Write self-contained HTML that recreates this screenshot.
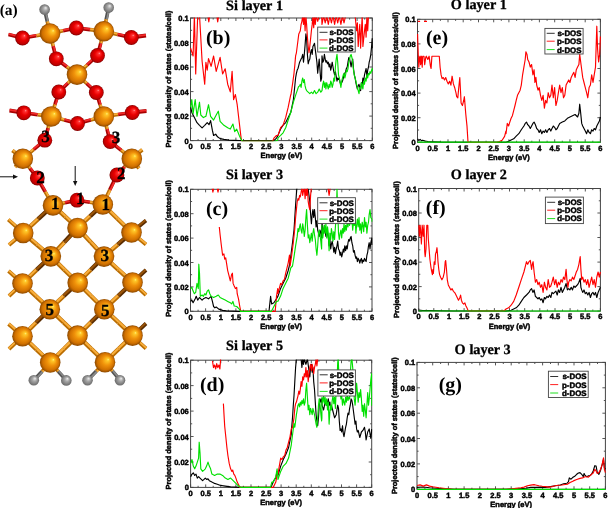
<!DOCTYPE html>
<html><head><meta charset="utf-8"><style>
html,body{margin:0;padding:0;background:#fff;width:608px;height:508px;overflow:hidden}
svg{display:block} text{text-rendering:geometricPrecision}
</style></head><body>
<svg width="608" height="508" viewBox="0 0 608 508">
<rect width="608" height="508" fill="#fff"/>
<defs>
<radialGradient id="gSi" cx="0.5" cy="0.5" r="0.5" fx="0.66" fy="0.36"><stop offset="0" stop-color="#fff080"/><stop offset="0.12" stop-color="#ffc828"/><stop offset="0.45" stop-color="#f0920a"/><stop offset="0.8" stop-color="#d07000"/><stop offset="1" stop-color="#8a4800"/></radialGradient>
<radialGradient id="gO" cx="0.5" cy="0.5" r="0.5" fx="0.64" fy="0.34"><stop offset="0" stop-color="#ff9a9a"/><stop offset="0.15" stop-color="#ff3030"/><stop offset="0.5" stop-color="#e80000"/><stop offset="0.85" stop-color="#c00000"/><stop offset="1" stop-color="#800000"/></radialGradient>
<radialGradient id="gH" cx="0.5" cy="0.5" r="0.5" fx="0.62" fy="0.32"><stop offset="0" stop-color="#eeeeee"/><stop offset="0.4" stop-color="#a8a8a8"/><stop offset="1" stop-color="#6a6a6a"/></radialGradient>
</defs>
<g><line x1="44.6" y1="9.6" x2="47.3" y2="21.6" stroke="#505050" stroke-width="3.6"/><line x1="45.2" y1="9.5" x2="47.9" y2="21.4" stroke="#8a8a8a" stroke-width="1.8"/><line x1="47.3" y1="21.6" x2="50.0" y2="33.5" stroke="#b96c00" stroke-width="3.6"/><line x1="47.9" y1="21.4" x2="50.6" y2="33.4" stroke="#f8ad3a" stroke-width="1.8"/><line x1="108.7" y1="7.6" x2="106.2" y2="19.4" stroke="#505050" stroke-width="3.6"/><line x1="109.3" y1="7.7" x2="106.8" y2="19.6" stroke="#8a8a8a" stroke-width="1.8"/><line x1="106.2" y1="19.4" x2="103.8" y2="31.3" stroke="#b96c00" stroke-width="3.6"/><line x1="106.8" y1="19.6" x2="104.4" y2="31.4" stroke="#f8ad3a" stroke-width="1.8"/><line x1="50.0" y1="33.5" x2="63.1" y2="30.8" stroke="#b96c00" stroke-width="3.6"/><line x1="49.9" y1="32.9" x2="63.0" y2="30.2" stroke="#f8ad3a" stroke-width="1.8"/><line x1="63.1" y1="30.8" x2="76.3" y2="28.0" stroke="#a80000" stroke-width="3.6"/><line x1="63.0" y1="30.2" x2="76.2" y2="27.4" stroke="#f22a2a" stroke-width="1.8"/><line x1="103.8" y1="31.3" x2="90.0" y2="29.6" stroke="#b96c00" stroke-width="3.6"/><line x1="103.9" y1="30.7" x2="90.1" y2="29.1" stroke="#f8ad3a" stroke-width="1.8"/><line x1="90.0" y1="29.6" x2="76.3" y2="28.0" stroke="#a80000" stroke-width="3.6"/><line x1="90.1" y1="29.1" x2="76.4" y2="27.4" stroke="#f22a2a" stroke-width="1.8"/><line x1="50.0" y1="33.5" x2="36.2" y2="35.8" stroke="#b96c00" stroke-width="3.6"/><line x1="49.9" y1="32.9" x2="36.2" y2="35.2" stroke="#f8ad3a" stroke-width="1.8"/><line x1="36.2" y1="35.8" x2="22.5" y2="38.0" stroke="#a80000" stroke-width="3.6"/><line x1="36.2" y1="35.2" x2="22.4" y2="37.4" stroke="#f22a2a" stroke-width="1.8"/><line x1="103.8" y1="31.3" x2="117.6" y2="34.4" stroke="#b96c00" stroke-width="3.6"/><line x1="103.9" y1="30.7" x2="117.7" y2="33.8" stroke="#f8ad3a" stroke-width="1.8"/><line x1="117.6" y1="34.4" x2="131.3" y2="37.5" stroke="#a80000" stroke-width="3.6"/><line x1="117.7" y1="33.8" x2="131.4" y2="36.9" stroke="#f22a2a" stroke-width="1.8"/><line x1="50.0" y1="33.5" x2="53.1" y2="46.1" stroke="#b96c00" stroke-width="3.6"/><line x1="50.6" y1="33.4" x2="53.7" y2="46.0" stroke="#f8ad3a" stroke-width="1.8"/><line x1="53.1" y1="46.1" x2="56.3" y2="58.8" stroke="#a80000" stroke-width="3.6"/><line x1="53.7" y1="46.0" x2="56.9" y2="58.7" stroke="#f22a2a" stroke-width="1.8"/><line x1="77.0" y1="74.6" x2="66.7" y2="66.7" stroke="#b96c00" stroke-width="3.6"/><line x1="77.4" y1="74.1" x2="67.0" y2="66.2" stroke="#f8ad3a" stroke-width="1.8"/><line x1="66.7" y1="66.7" x2="56.3" y2="58.8" stroke="#a80000" stroke-width="3.6"/><line x1="67.0" y1="66.2" x2="56.7" y2="58.3" stroke="#f22a2a" stroke-width="1.8"/><line x1="103.8" y1="31.3" x2="100.7" y2="43.4" stroke="#b96c00" stroke-width="3.6"/><line x1="104.4" y1="31.5" x2="101.2" y2="43.6" stroke="#f8ad3a" stroke-width="1.8"/><line x1="100.7" y1="43.4" x2="97.5" y2="55.5" stroke="#a80000" stroke-width="3.6"/><line x1="101.2" y1="43.6" x2="98.1" y2="55.7" stroke="#f22a2a" stroke-width="1.8"/><line x1="77.0" y1="74.6" x2="87.2" y2="65.0" stroke="#b96c00" stroke-width="3.6"/><line x1="76.6" y1="74.2" x2="86.8" y2="64.6" stroke="#f8ad3a" stroke-width="1.8"/><line x1="87.2" y1="65.0" x2="97.5" y2="55.5" stroke="#a80000" stroke-width="3.6"/><line x1="86.8" y1="64.6" x2="97.1" y2="55.1" stroke="#f22a2a" stroke-width="1.8"/><line x1="77.0" y1="74.6" x2="67.9" y2="83.3" stroke="#b96c00" stroke-width="3.6"/><line x1="76.6" y1="74.2" x2="67.5" y2="82.9" stroke="#f8ad3a" stroke-width="1.8"/><line x1="67.9" y1="83.3" x2="58.8" y2="92.0" stroke="#a80000" stroke-width="3.6"/><line x1="67.5" y1="82.9" x2="58.4" y2="91.6" stroke="#f22a2a" stroke-width="1.8"/><line x1="51.3" y1="116.5" x2="55.0" y2="104.2" stroke="#b96c00" stroke-width="3.6"/><line x1="51.9" y1="116.7" x2="55.6" y2="104.4" stroke="#f8ad3a" stroke-width="1.8"/><line x1="55.0" y1="104.2" x2="58.8" y2="92.0" stroke="#a80000" stroke-width="3.6"/><line x1="55.6" y1="104.4" x2="59.4" y2="92.2" stroke="#f22a2a" stroke-width="1.8"/><line x1="77.0" y1="74.6" x2="86.7" y2="83.5" stroke="#b96c00" stroke-width="3.6"/><line x1="77.4" y1="74.2" x2="87.1" y2="83.1" stroke="#f8ad3a" stroke-width="1.8"/><line x1="86.7" y1="83.5" x2="96.3" y2="92.5" stroke="#a80000" stroke-width="3.6"/><line x1="87.1" y1="83.1" x2="96.7" y2="92.1" stroke="#f22a2a" stroke-width="1.8"/><line x1="103.8" y1="116.5" x2="100.0" y2="104.5" stroke="#b96c00" stroke-width="3.6"/><line x1="104.4" y1="116.3" x2="100.6" y2="104.3" stroke="#f8ad3a" stroke-width="1.8"/><line x1="100.0" y1="104.5" x2="96.3" y2="92.5" stroke="#a80000" stroke-width="3.6"/><line x1="100.6" y1="104.3" x2="96.9" y2="92.3" stroke="#f22a2a" stroke-width="1.8"/><line x1="51.3" y1="116.5" x2="64.4" y2="120.0" stroke="#b96c00" stroke-width="3.6"/><line x1="51.5" y1="115.9" x2="64.6" y2="119.4" stroke="#f8ad3a" stroke-width="1.8"/><line x1="64.4" y1="120.0" x2="77.5" y2="123.5" stroke="#a80000" stroke-width="3.6"/><line x1="64.6" y1="119.4" x2="77.7" y2="122.9" stroke="#f22a2a" stroke-width="1.8"/><line x1="103.8" y1="116.5" x2="90.7" y2="120.0" stroke="#b96c00" stroke-width="3.6"/><line x1="103.6" y1="115.9" x2="90.5" y2="119.4" stroke="#f8ad3a" stroke-width="1.8"/><line x1="90.7" y1="120.0" x2="77.5" y2="123.5" stroke="#a80000" stroke-width="3.6"/><line x1="90.5" y1="119.4" x2="77.3" y2="122.9" stroke="#f22a2a" stroke-width="1.8"/><line x1="51.3" y1="116.5" x2="37.5" y2="114.7" stroke="#b96c00" stroke-width="3.6"/><line x1="51.4" y1="115.9" x2="37.6" y2="114.1" stroke="#f8ad3a" stroke-width="1.8"/><line x1="37.5" y1="114.7" x2="23.8" y2="112.8" stroke="#a80000" stroke-width="3.6"/><line x1="37.6" y1="114.1" x2="23.9" y2="112.2" stroke="#f22a2a" stroke-width="1.8"/><line x1="103.8" y1="116.5" x2="118.1" y2="114.5" stroke="#b96c00" stroke-width="3.6"/><line x1="103.7" y1="115.9" x2="118.0" y2="113.9" stroke="#f8ad3a" stroke-width="1.8"/><line x1="118.1" y1="114.5" x2="132.3" y2="112.5" stroke="#a80000" stroke-width="3.6"/><line x1="118.0" y1="113.9" x2="132.2" y2="111.9" stroke="#f22a2a" stroke-width="1.8"/><line x1="51.3" y1="116.5" x2="48.0" y2="128.3" stroke="#b96c00" stroke-width="3.6"/><line x1="51.9" y1="116.7" x2="48.6" y2="128.5" stroke="#f8ad3a" stroke-width="1.8"/><line x1="48.0" y1="128.3" x2="44.8" y2="140.2" stroke="#a80000" stroke-width="3.6"/><line x1="48.6" y1="128.5" x2="45.4" y2="140.4" stroke="#f22a2a" stroke-width="1.8"/><line x1="22.8" y1="158.8" x2="33.8" y2="149.5" stroke="#b96c00" stroke-width="3.6"/><line x1="22.4" y1="158.3" x2="33.4" y2="149.0" stroke="#f8ad3a" stroke-width="1.8"/><line x1="33.8" y1="149.5" x2="44.8" y2="140.2" stroke="#a80000" stroke-width="3.6"/><line x1="33.4" y1="149.0" x2="44.4" y2="139.7" stroke="#f22a2a" stroke-width="1.8"/><line x1="103.8" y1="116.5" x2="107.0" y2="129.1" stroke="#b96c00" stroke-width="3.6"/><line x1="104.4" y1="116.4" x2="107.6" y2="128.9" stroke="#f8ad3a" stroke-width="1.8"/><line x1="107.0" y1="129.1" x2="110.2" y2="141.6" stroke="#a80000" stroke-width="3.6"/><line x1="107.6" y1="128.9" x2="110.8" y2="141.5" stroke="#f22a2a" stroke-width="1.8"/><line x1="131.8" y1="158.8" x2="121.0" y2="150.2" stroke="#b96c00" stroke-width="3.6"/><line x1="132.2" y1="158.3" x2="121.4" y2="149.7" stroke="#f8ad3a" stroke-width="1.8"/><line x1="121.0" y1="150.2" x2="110.2" y2="141.6" stroke="#a80000" stroke-width="3.6"/><line x1="121.4" y1="149.7" x2="110.6" y2="141.1" stroke="#f22a2a" stroke-width="1.8"/><line x1="22.8" y1="158.8" x2="30.0" y2="168.4" stroke="#b96c00" stroke-width="3.6"/><line x1="23.3" y1="158.4" x2="30.5" y2="168.0" stroke="#f8ad3a" stroke-width="1.8"/><line x1="30.0" y1="168.4" x2="37.3" y2="178.0" stroke="#a80000" stroke-width="3.6"/><line x1="30.5" y1="168.0" x2="37.8" y2="177.6" stroke="#f22a2a" stroke-width="1.8"/><line x1="53.0" y1="205.4" x2="45.1" y2="191.7" stroke="#b96c00" stroke-width="3.6"/><line x1="53.5" y1="205.1" x2="45.7" y2="191.4" stroke="#f8ad3a" stroke-width="1.8"/><line x1="45.1" y1="191.7" x2="37.3" y2="178.0" stroke="#a80000" stroke-width="3.6"/><line x1="45.7" y1="191.4" x2="37.8" y2="177.7" stroke="#f22a2a" stroke-width="1.8"/><line x1="131.8" y1="158.8" x2="124.4" y2="166.9" stroke="#b96c00" stroke-width="3.6"/><line x1="132.2" y1="159.2" x2="124.8" y2="167.3" stroke="#f8ad3a" stroke-width="1.8"/><line x1="124.4" y1="166.9" x2="116.9" y2="175.0" stroke="#a80000" stroke-width="3.6"/><line x1="124.8" y1="167.3" x2="117.3" y2="175.4" stroke="#f22a2a" stroke-width="1.8"/><line x1="102.8" y1="204.5" x2="109.8" y2="189.8" stroke="#b96c00" stroke-width="3.6"/><line x1="103.3" y1="204.8" x2="110.4" y2="190.0" stroke="#f8ad3a" stroke-width="1.8"/><line x1="109.8" y1="189.8" x2="116.9" y2="175.0" stroke="#a80000" stroke-width="3.6"/><line x1="110.4" y1="190.0" x2="117.4" y2="175.3" stroke="#f22a2a" stroke-width="1.8"/><line x1="53.0" y1="205.4" x2="65.0" y2="202.8" stroke="#b96c00" stroke-width="3.6"/><line x1="52.9" y1="204.8" x2="64.9" y2="202.2" stroke="#f8ad3a" stroke-width="1.8"/><line x1="65.0" y1="202.8" x2="77.0" y2="200.2" stroke="#a80000" stroke-width="3.6"/><line x1="64.9" y1="202.2" x2="76.9" y2="199.6" stroke="#f22a2a" stroke-width="1.8"/><line x1="102.8" y1="204.5" x2="89.9" y2="202.3" stroke="#b96c00" stroke-width="3.6"/><line x1="102.9" y1="203.9" x2="90.0" y2="201.8" stroke="#f8ad3a" stroke-width="1.8"/><line x1="89.9" y1="202.3" x2="77.0" y2="200.2" stroke="#a80000" stroke-width="3.6"/><line x1="90.0" y1="201.8" x2="77.1" y2="199.6" stroke="#f22a2a" stroke-width="1.8"/><line x1="23.2" y1="233.0" x2="38.1" y2="219.2" stroke="#b96c00" stroke-width="4.4"/><line x1="22.8" y1="232.6" x2="37.7" y2="218.8" stroke="#f8ad3a" stroke-width="2.2"/><line x1="38.1" y1="219.2" x2="53.0" y2="205.4" stroke="#5a2c00" stroke-width="4.4"/><line x1="37.7" y1="218.8" x2="52.6" y2="205.0" stroke="#9a5408" stroke-width="2.2"/><line x1="53.0" y1="205.4" x2="65.2" y2="216.7" stroke="#b96c00" stroke-width="4.4"/><line x1="53.4" y1="205.0" x2="65.7" y2="216.3" stroke="#f8ad3a" stroke-width="2.2"/><line x1="65.2" y1="216.7" x2="77.5" y2="228.0" stroke="#b96c00" stroke-width="4.4"/><line x1="65.7" y1="216.3" x2="77.9" y2="227.6" stroke="#f8ad3a" stroke-width="2.2"/><line x1="77.5" y1="228.0" x2="90.2" y2="216.2" stroke="#b96c00" stroke-width="4.4"/><line x1="77.1" y1="227.6" x2="89.7" y2="215.8" stroke="#f8ad3a" stroke-width="2.2"/><line x1="90.2" y1="216.2" x2="102.8" y2="204.5" stroke="#5a2c00" stroke-width="4.4"/><line x1="89.7" y1="215.8" x2="102.4" y2="204.1" stroke="#9a5408" stroke-width="2.2"/><line x1="102.8" y1="204.5" x2="117.2" y2="218.5" stroke="#b96c00" stroke-width="4.4"/><line x1="103.2" y1="204.1" x2="117.6" y2="218.1" stroke="#f8ad3a" stroke-width="2.2"/><line x1="117.2" y1="218.5" x2="131.5" y2="232.5" stroke="#b96c00" stroke-width="4.4"/><line x1="117.6" y1="218.1" x2="131.9" y2="232.1" stroke="#f8ad3a" stroke-width="2.2"/><line x1="23.2" y1="233.0" x2="37.0" y2="244.7" stroke="#b96c00" stroke-width="4.4"/><line x1="23.6" y1="232.5" x2="37.4" y2="244.2" stroke="#f8ad3a" stroke-width="2.2"/><line x1="37.0" y1="244.7" x2="50.8" y2="256.4" stroke="#b96c00" stroke-width="4.4"/><line x1="37.4" y1="244.2" x2="51.2" y2="255.9" stroke="#f8ad3a" stroke-width="2.2"/><line x1="50.8" y1="256.4" x2="64.2" y2="242.2" stroke="#b96c00" stroke-width="4.4"/><line x1="51.2" y1="256.8" x2="64.6" y2="242.6" stroke="#f8ad3a" stroke-width="2.2"/><line x1="64.2" y1="242.2" x2="77.5" y2="228.0" stroke="#5a2c00" stroke-width="4.4"/><line x1="64.6" y1="242.6" x2="77.9" y2="228.4" stroke="#9a5408" stroke-width="2.2"/><line x1="77.5" y1="228.0" x2="90.8" y2="242.3" stroke="#b96c00" stroke-width="4.4"/><line x1="77.9" y1="227.6" x2="91.2" y2="241.9" stroke="#f8ad3a" stroke-width="2.2"/><line x1="90.8" y1="242.3" x2="104.0" y2="256.6" stroke="#b96c00" stroke-width="4.4"/><line x1="91.2" y1="241.9" x2="104.4" y2="256.2" stroke="#f8ad3a" stroke-width="2.2"/><line x1="104.0" y1="256.6" x2="117.8" y2="244.6" stroke="#b96c00" stroke-width="4.4"/><line x1="103.6" y1="256.1" x2="117.4" y2="244.1" stroke="#f8ad3a" stroke-width="2.2"/><line x1="117.8" y1="244.6" x2="131.5" y2="232.5" stroke="#5a2c00" stroke-width="4.4"/><line x1="117.4" y1="244.1" x2="131.1" y2="232.0" stroke="#9a5408" stroke-width="2.2"/><line x1="22.5" y1="283.5" x2="36.6" y2="269.9" stroke="#b96c00" stroke-width="4.4"/><line x1="22.1" y1="283.1" x2="36.2" y2="269.5" stroke="#f8ad3a" stroke-width="2.2"/><line x1="36.6" y1="269.9" x2="50.8" y2="256.4" stroke="#5a2c00" stroke-width="4.4"/><line x1="36.2" y1="269.5" x2="50.4" y2="256.0" stroke="#9a5408" stroke-width="2.2"/><line x1="50.8" y1="256.4" x2="64.2" y2="269.6" stroke="#b96c00" stroke-width="4.4"/><line x1="51.2" y1="256.0" x2="64.7" y2="269.2" stroke="#f8ad3a" stroke-width="2.2"/><line x1="64.2" y1="269.6" x2="77.7" y2="282.8" stroke="#b96c00" stroke-width="4.4"/><line x1="64.7" y1="269.2" x2="78.1" y2="282.4" stroke="#f8ad3a" stroke-width="2.2"/><line x1="77.7" y1="282.8" x2="90.8" y2="269.7" stroke="#b96c00" stroke-width="4.4"/><line x1="77.3" y1="282.4" x2="90.4" y2="269.3" stroke="#f8ad3a" stroke-width="2.2"/><line x1="90.8" y1="269.7" x2="104.0" y2="256.6" stroke="#5a2c00" stroke-width="4.4"/><line x1="90.4" y1="269.3" x2="103.6" y2="256.2" stroke="#9a5408" stroke-width="2.2"/><line x1="104.0" y1="256.6" x2="118.2" y2="269.6" stroke="#b96c00" stroke-width="4.4"/><line x1="104.4" y1="256.2" x2="118.7" y2="269.1" stroke="#f8ad3a" stroke-width="2.2"/><line x1="118.2" y1="269.6" x2="132.5" y2="282.5" stroke="#b96c00" stroke-width="4.4"/><line x1="118.7" y1="269.1" x2="132.9" y2="282.1" stroke="#f8ad3a" stroke-width="2.2"/><line x1="22.5" y1="283.5" x2="36.1" y2="296.4" stroke="#b96c00" stroke-width="4.4"/><line x1="22.9" y1="283.1" x2="36.6" y2="295.9" stroke="#f8ad3a" stroke-width="2.2"/><line x1="36.1" y1="296.4" x2="49.8" y2="309.2" stroke="#b96c00" stroke-width="4.4"/><line x1="36.6" y1="295.9" x2="50.2" y2="308.8" stroke="#f8ad3a" stroke-width="2.2"/><line x1="49.8" y1="309.2" x2="63.8" y2="296.0" stroke="#b96c00" stroke-width="4.4"/><line x1="49.4" y1="308.8" x2="63.3" y2="295.6" stroke="#f8ad3a" stroke-width="2.2"/><line x1="63.8" y1="296.0" x2="77.7" y2="282.8" stroke="#5a2c00" stroke-width="4.4"/><line x1="63.3" y1="295.6" x2="77.3" y2="282.4" stroke="#9a5408" stroke-width="2.2"/><line x1="77.7" y1="282.8" x2="91.0" y2="296.0" stroke="#b96c00" stroke-width="4.4"/><line x1="78.1" y1="282.4" x2="91.4" y2="295.6" stroke="#f8ad3a" stroke-width="2.2"/><line x1="91.0" y1="296.0" x2="104.3" y2="309.2" stroke="#b96c00" stroke-width="4.4"/><line x1="91.4" y1="295.6" x2="104.7" y2="308.8" stroke="#f8ad3a" stroke-width="2.2"/><line x1="104.3" y1="309.2" x2="118.4" y2="295.9" stroke="#b96c00" stroke-width="4.4"/><line x1="103.9" y1="308.8" x2="118.0" y2="295.4" stroke="#f8ad3a" stroke-width="2.2"/><line x1="118.4" y1="295.9" x2="132.5" y2="282.5" stroke="#5a2c00" stroke-width="4.4"/><line x1="118.0" y1="295.4" x2="132.1" y2="282.1" stroke="#9a5408" stroke-width="2.2"/><line x1="22.5" y1="336.2" x2="36.1" y2="322.7" stroke="#b96c00" stroke-width="4.4"/><line x1="22.1" y1="335.8" x2="35.7" y2="322.3" stroke="#f8ad3a" stroke-width="2.2"/><line x1="36.1" y1="322.7" x2="49.8" y2="309.2" stroke="#5a2c00" stroke-width="4.4"/><line x1="35.7" y1="322.3" x2="49.4" y2="308.8" stroke="#9a5408" stroke-width="2.2"/><line x1="49.8" y1="309.2" x2="63.6" y2="322.4" stroke="#b96c00" stroke-width="4.4"/><line x1="50.2" y1="308.8" x2="64.1" y2="322.0" stroke="#f8ad3a" stroke-width="2.2"/><line x1="63.6" y1="322.4" x2="77.5" y2="335.6" stroke="#b96c00" stroke-width="4.4"/><line x1="64.1" y1="322.0" x2="77.9" y2="335.2" stroke="#f8ad3a" stroke-width="2.2"/><line x1="77.5" y1="335.6" x2="90.9" y2="322.4" stroke="#b96c00" stroke-width="4.4"/><line x1="77.1" y1="335.2" x2="90.5" y2="322.0" stroke="#f8ad3a" stroke-width="2.2"/><line x1="90.9" y1="322.4" x2="104.3" y2="309.2" stroke="#5a2c00" stroke-width="4.4"/><line x1="90.5" y1="322.0" x2="103.9" y2="308.8" stroke="#9a5408" stroke-width="2.2"/><line x1="104.3" y1="309.2" x2="118.4" y2="322.4" stroke="#b96c00" stroke-width="4.4"/><line x1="104.7" y1="308.8" x2="118.8" y2="322.0" stroke="#f8ad3a" stroke-width="2.2"/><line x1="118.4" y1="322.4" x2="132.5" y2="335.6" stroke="#b96c00" stroke-width="4.4"/><line x1="118.8" y1="322.0" x2="132.9" y2="335.2" stroke="#f8ad3a" stroke-width="2.2"/><line x1="22.5" y1="336.2" x2="36.4" y2="349.4" stroke="#b96c00" stroke-width="4.4"/><line x1="22.9" y1="335.8" x2="36.8" y2="348.9" stroke="#f8ad3a" stroke-width="2.2"/><line x1="36.4" y1="349.4" x2="50.2" y2="362.5" stroke="#b96c00" stroke-width="4.4"/><line x1="36.8" y1="348.9" x2="50.6" y2="362.1" stroke="#f8ad3a" stroke-width="2.2"/><line x1="77.5" y1="335.6" x2="63.9" y2="349.1" stroke="#b96c00" stroke-width="4.4"/><line x1="77.1" y1="335.2" x2="63.4" y2="348.6" stroke="#f8ad3a" stroke-width="2.2"/><line x1="63.9" y1="349.1" x2="50.2" y2="362.5" stroke="#b96c00" stroke-width="4.4"/><line x1="63.4" y1="348.6" x2="49.8" y2="362.1" stroke="#f8ad3a" stroke-width="2.2"/><line x1="77.5" y1="335.6" x2="91.2" y2="348.9" stroke="#b96c00" stroke-width="4.4"/><line x1="77.9" y1="335.2" x2="91.7" y2="348.5" stroke="#f8ad3a" stroke-width="2.2"/><line x1="91.2" y1="348.9" x2="105.0" y2="362.2" stroke="#b96c00" stroke-width="4.4"/><line x1="91.7" y1="348.5" x2="105.4" y2="361.8" stroke="#f8ad3a" stroke-width="2.2"/><line x1="132.5" y1="335.6" x2="118.8" y2="348.9" stroke="#b96c00" stroke-width="4.4"/><line x1="132.1" y1="335.2" x2="118.3" y2="348.5" stroke="#f8ad3a" stroke-width="2.2"/><line x1="118.8" y1="348.9" x2="105.0" y2="362.2" stroke="#b96c00" stroke-width="4.4"/><line x1="118.3" y1="348.5" x2="104.6" y2="361.8" stroke="#f8ad3a" stroke-width="2.2"/><line x1="50.2" y1="362.5" x2="42.0" y2="371.4" stroke="#b96c00" stroke-width="3.6"/><line x1="50.6" y1="362.9" x2="42.4" y2="371.8" stroke="#f8ad3a" stroke-width="1.8"/><line x1="42.0" y1="371.4" x2="33.8" y2="380.2" stroke="#505050" stroke-width="3.6"/><line x1="42.4" y1="371.8" x2="34.2" y2="380.6" stroke="#8a8a8a" stroke-width="1.8"/><line x1="50.2" y1="362.5" x2="58.2" y2="371.4" stroke="#b96c00" stroke-width="3.6"/><line x1="50.6" y1="362.1" x2="58.7" y2="371.0" stroke="#f8ad3a" stroke-width="1.8"/><line x1="58.2" y1="371.4" x2="66.3" y2="380.4" stroke="#505050" stroke-width="3.6"/><line x1="58.7" y1="371.0" x2="66.7" y2="380.0" stroke="#8a8a8a" stroke-width="1.8"/><line x1="105.0" y1="362.2" x2="96.2" y2="371.2" stroke="#b96c00" stroke-width="3.6"/><line x1="105.4" y1="362.6" x2="96.7" y2="371.6" stroke="#f8ad3a" stroke-width="1.8"/><line x1="96.2" y1="371.2" x2="87.5" y2="380.2" stroke="#505050" stroke-width="3.6"/><line x1="96.7" y1="371.6" x2="87.9" y2="380.6" stroke="#8a8a8a" stroke-width="1.8"/><line x1="105.0" y1="362.2" x2="112.5" y2="371.2" stroke="#b96c00" stroke-width="3.6"/><line x1="105.5" y1="361.8" x2="113.0" y2="370.8" stroke="#f8ad3a" stroke-width="1.8"/><line x1="112.5" y1="371.2" x2="120.0" y2="380.2" stroke="#505050" stroke-width="3.6"/><line x1="113.0" y1="370.8" x2="120.5" y2="379.8" stroke="#8a8a8a" stroke-width="1.8"/><line x1="22.5" y1="38.0" x2="8.5" y2="34.5" stroke="#a80000" stroke-width="3.8"/><line x1="22.6" y1="37.4" x2="8.6" y2="33.9" stroke="#f22a2a" stroke-width="1.9"/><line x1="131.3" y1="37.5" x2="146.0" y2="35.5" stroke="#a80000" stroke-width="3.8"/><line x1="131.2" y1="36.9" x2="145.9" y2="34.9" stroke="#f22a2a" stroke-width="1.9"/><line x1="23.8" y1="112.8" x2="9.5" y2="110.5" stroke="#a80000" stroke-width="3.8"/><line x1="23.9" y1="112.2" x2="9.6" y2="109.9" stroke="#f22a2a" stroke-width="1.9"/><line x1="132.3" y1="112.5" x2="146.5" y2="111.0" stroke="#a80000" stroke-width="3.8"/><line x1="132.2" y1="111.9" x2="146.4" y2="110.4" stroke="#f22a2a" stroke-width="1.9"/><line x1="23.2" y1="233.0" x2="8.3" y2="219.6" stroke="#b96c00" stroke-width="3.8"/><line x1="23.6" y1="232.6" x2="8.7" y2="219.2" stroke="#f8ad3a" stroke-width="1.9"/><line x1="23.2" y1="233.0" x2="9.0" y2="245.0" stroke="#b96c00" stroke-width="3.8"/><line x1="22.8" y1="232.5" x2="8.6" y2="244.5" stroke="#f8ad3a" stroke-width="1.9"/><line x1="131.5" y1="232.5" x2="146.0" y2="220.5" stroke="#5a2c00" stroke-width="3.8"/><line x1="131.1" y1="232.0" x2="145.6" y2="220.0" stroke="#9a5408" stroke-width="1.9"/><line x1="131.5" y1="232.5" x2="146.0" y2="244.5" stroke="#b96c00" stroke-width="3.8"/><line x1="131.9" y1="232.0" x2="146.4" y2="244.0" stroke="#f8ad3a" stroke-width="1.9"/><line x1="22.5" y1="283.5" x2="8.5" y2="271.0" stroke="#b96c00" stroke-width="3.8"/><line x1="22.9" y1="283.1" x2="8.9" y2="270.6" stroke="#f8ad3a" stroke-width="1.9"/><line x1="22.5" y1="283.5" x2="9.0" y2="296.0" stroke="#b96c00" stroke-width="3.8"/><line x1="22.1" y1="283.1" x2="8.6" y2="295.6" stroke="#f8ad3a" stroke-width="1.9"/><line x1="132.5" y1="282.5" x2="146.0" y2="270.0" stroke="#5a2c00" stroke-width="3.8"/><line x1="132.1" y1="282.1" x2="145.6" y2="269.6" stroke="#9a5408" stroke-width="1.9"/><line x1="132.5" y1="282.5" x2="146.0" y2="295.0" stroke="#b96c00" stroke-width="3.8"/><line x1="132.9" y1="282.1" x2="146.4" y2="294.6" stroke="#f8ad3a" stroke-width="1.9"/><line x1="22.5" y1="336.3" x2="8.5" y2="324.0" stroke="#b96c00" stroke-width="3.8"/><line x1="22.9" y1="335.8" x2="8.9" y2="323.5" stroke="#f8ad3a" stroke-width="1.9"/><line x1="22.5" y1="336.3" x2="9.0" y2="349.0" stroke="#b96c00" stroke-width="3.8"/><line x1="22.1" y1="335.9" x2="8.6" y2="348.6" stroke="#f8ad3a" stroke-width="1.9"/><line x1="132.5" y1="336.3" x2="146.0" y2="323.5" stroke="#5a2c00" stroke-width="3.8"/><line x1="132.1" y1="335.9" x2="145.6" y2="323.1" stroke="#9a5408" stroke-width="1.9"/><line x1="132.5" y1="336.3" x2="146.0" y2="348.5" stroke="#b96c00" stroke-width="3.8"/><line x1="132.9" y1="335.9" x2="146.4" y2="348.1" stroke="#f8ad3a" stroke-width="1.9"/><line x1="22.8" y1="158.8" x2="12.4" y2="150.5" stroke="#b96c00" stroke-width="3.8"/><line x1="23.2" y1="158.3" x2="12.8" y2="150.0" stroke="#f8ad3a" stroke-width="1.9"/><line x1="22.8" y1="158.8" x2="15.2" y2="167.0" stroke="#b96c00" stroke-width="3.8"/><line x1="23.2" y1="159.2" x2="15.6" y2="167.4" stroke="#f8ad3a" stroke-width="1.9"/><line x1="131.8" y1="158.8" x2="142.3" y2="149.8" stroke="#b96c00" stroke-width="3.8"/><line x1="131.4" y1="158.3" x2="141.9" y2="149.3" stroke="#f8ad3a" stroke-width="1.9"/><line x1="131.8" y1="158.8" x2="138.9" y2="168.4" stroke="#b96c00" stroke-width="3.8"/><line x1="132.3" y1="158.4" x2="139.4" y2="168.0" stroke="#f8ad3a" stroke-width="1.9"/><circle cx="50" cy="33.5" r="10.3" fill="url(#gSi)"/><circle cx="103.8" cy="31.3" r="10.3" fill="url(#gSi)"/><circle cx="77" cy="74.6" r="10.3" fill="url(#gSi)"/><circle cx="51.3" cy="116.5" r="10.3" fill="url(#gSi)"/><circle cx="103.8" cy="116.5" r="10.3" fill="url(#gSi)"/><circle cx="22.8" cy="158.8" r="10.3" fill="url(#gSi)"/><circle cx="131.8" cy="158.8" r="10.3" fill="url(#gSi)"/><circle cx="53" cy="205.4" r="10.3" fill="url(#gSi)"/><circle cx="102.8" cy="204.5" r="10.3" fill="url(#gSi)"/><circle cx="23.2" cy="233" r="10.3" fill="url(#gSi)"/><circle cx="77.5" cy="228" r="10.3" fill="url(#gSi)"/><circle cx="131.5" cy="232.5" r="10.3" fill="url(#gSi)"/><circle cx="50.8" cy="256.4" r="10.3" fill="url(#gSi)"/><circle cx="104" cy="256.6" r="10.3" fill="url(#gSi)"/><circle cx="22.5" cy="283.5" r="10.3" fill="url(#gSi)"/><circle cx="77.7" cy="282.8" r="10.3" fill="url(#gSi)"/><circle cx="132.5" cy="282.5" r="10.3" fill="url(#gSi)"/><circle cx="49.8" cy="309.2" r="10.3" fill="url(#gSi)"/><circle cx="104.3" cy="309.2" r="10.3" fill="url(#gSi)"/><circle cx="22.5" cy="336.2" r="10.3" fill="url(#gSi)"/><circle cx="77.5" cy="335.6" r="10.3" fill="url(#gSi)"/><circle cx="132.5" cy="335.6" r="10.3" fill="url(#gSi)"/><circle cx="50.2" cy="362.5" r="10.3" fill="url(#gSi)"/><circle cx="105" cy="362.2" r="10.3" fill="url(#gSi)"/><circle cx="76.3" cy="28" r="7.4" fill="url(#gO)"/><circle cx="22.5" cy="38" r="7.4" fill="url(#gO)"/><circle cx="131.3" cy="37.5" r="7.4" fill="url(#gO)"/><circle cx="56.3" cy="58.8" r="7.4" fill="url(#gO)"/><circle cx="97.5" cy="55.5" r="7.4" fill="url(#gO)"/><circle cx="58.8" cy="92" r="7.4" fill="url(#gO)"/><circle cx="96.3" cy="92.5" r="7.4" fill="url(#gO)"/><circle cx="77.5" cy="123.5" r="7.4" fill="url(#gO)"/><circle cx="23.8" cy="112.8" r="7.4" fill="url(#gO)"/><circle cx="132.3" cy="112.5" r="7.4" fill="url(#gO)"/><circle cx="44.8" cy="140.2" r="7.4" fill="url(#gO)"/><circle cx="110.2" cy="141.6" r="7.4" fill="url(#gO)"/><circle cx="37.3" cy="178" r="7.4" fill="url(#gO)"/><circle cx="116.9" cy="175" r="7.4" fill="url(#gO)"/><circle cx="77" cy="200.2" r="7.4" fill="url(#gO)"/><circle cx="44.6" cy="9.6" r="5.3" fill="url(#gH)"/><circle cx="108.7" cy="7.6" r="5.3" fill="url(#gH)"/><circle cx="33.8" cy="380.2" r="5.3" fill="url(#gH)"/><circle cx="66.3" cy="380.4" r="5.3" fill="url(#gH)"/><circle cx="87.5" cy="380.2" r="5.3" fill="url(#gH)"/><circle cx="120" cy="380.2" r="5.3" fill="url(#gH)"/><text x="55.2" y="209.1" text-anchor="middle" style="font-family:'Liberation Serif','Times New Roman',serif;font-weight:bold;font-size:17px;stroke:#000;stroke-width:0.3px">1</text><text x="80.2" y="204.0" text-anchor="middle" style="font-family:'Liberation Serif','Times New Roman',serif;font-weight:bold;font-size:17px;stroke:#000;stroke-width:0.3px">1</text><text x="105.8" y="209.5" text-anchor="middle" style="font-family:'Liberation Serif','Times New Roman',serif;font-weight:bold;font-size:17px;stroke:#000;stroke-width:0.3px">1</text><text x="45.4" y="142.1" text-anchor="middle" style="font-family:'Liberation Serif','Times New Roman',serif;font-weight:bold;font-size:17px;stroke:#000;stroke-width:0.3px">3</text><text x="115.9" y="142.5" text-anchor="middle" style="font-family:'Liberation Serif','Times New Roman',serif;font-weight:bold;font-size:17px;stroke:#000;stroke-width:0.3px">3</text><text x="40.6" y="183.4" text-anchor="middle" style="font-family:'Liberation Serif','Times New Roman',serif;font-weight:bold;font-size:17px;stroke:#000;stroke-width:0.3px">2</text><text x="121.2" y="179.3" text-anchor="middle" style="font-family:'Liberation Serif','Times New Roman',serif;font-weight:bold;font-size:17px;stroke:#000;stroke-width:0.3px">2</text><text x="48.9" y="261.0" text-anchor="middle" style="font-family:'Liberation Serif','Times New Roman',serif;font-weight:bold;font-size:17px;stroke:#000;stroke-width:0.3px">3</text><text x="104.8" y="261.0" text-anchor="middle" style="font-family:'Liberation Serif','Times New Roman',serif;font-weight:bold;font-size:17px;stroke:#000;stroke-width:0.3px">3</text><text x="49.7" y="315.4" text-anchor="middle" style="font-family:'Liberation Serif','Times New Roman',serif;font-weight:bold;font-size:17px;stroke:#000;stroke-width:0.3px">5</text><text x="105.2" y="315.8" text-anchor="middle" style="font-family:'Liberation Serif','Times New Roman',serif;font-weight:bold;font-size:17px;stroke:#000;stroke-width:0.3px">5</text><path d="M0,176.8H13.5" stroke="#111" stroke-width="1"/><path d="M18,176.8l-5,-2.2v4.4z" fill="#111"/><path d="M75.2,166V181" stroke="#111" stroke-width="1"/><path d="M75.2,186l-2.2,-5h4.4z" fill="#111"/><text x="-0.3" y="15.4" style="font-family:'Liberation Serif','Times New Roman',serif;font-weight:bold;font-size:15.5px">(a)</text></g>
<clipPath id="cpb"><rect x="189.9" y="17.4" width="183.0" height="123.8"/></clipPath>
<path d="M190.5,140.6v-3M190.5,18.0v3M198.1,140.6v-1.6M198.1,18.0v1.6M205.7,140.6v-3M205.7,18.0v3M213.2,140.6v-1.6M213.2,18.0v1.6M220.8,140.6v-3M220.8,18.0v3M228.4,140.6v-1.6M228.4,18.0v1.6M235.9,140.6v-3M235.9,18.0v3M243.5,140.6v-1.6M243.5,18.0v1.6M251.1,140.6v-3M251.1,18.0v3M258.7,140.6v-1.6M258.7,18.0v1.6M266.2,140.6v-3M266.2,18.0v3M273.8,140.6v-1.6M273.8,18.0v1.6M281.4,140.6v-3M281.4,18.0v3M289.0,140.6v-1.6M289.0,18.0v1.6M296.6,140.6v-3M296.6,18.0v3M304.1,140.6v-1.6M304.1,18.0v1.6M311.7,140.6v-3M311.7,18.0v3M319.3,140.6v-1.6M319.3,18.0v1.6M326.9,140.6v-3M326.9,18.0v3M334.4,140.6v-1.6M334.4,18.0v1.6M342.0,140.6v-3M342.0,18.0v3M349.6,140.6v-1.6M349.6,18.0v1.6M357.1,140.6v-3M357.1,18.0v3M364.7,140.6v-1.6M364.7,18.0v1.6M372.3,140.6v-3M372.3,18.0v3M190.5,140.6h3M372.3,140.6h-3M190.5,128.3h1.6M372.3,128.3h-1.6M190.5,116.1h3M372.3,116.1h-3M190.5,103.8h1.6M372.3,103.8h-1.6M190.5,91.6h3M372.3,91.6h-3M190.5,79.3h1.6M372.3,79.3h-1.6M190.5,67.0h3M372.3,67.0h-3M190.5,54.8h1.6M372.3,54.8h-1.6M190.5,42.5h3M372.3,42.5h-3M190.5,30.3h1.6M372.3,30.3h-1.6M190.5,18.0h3M372.3,18.0h-3" stroke="#444" stroke-width="0.9" fill="none"/>
<rect x="190.5" y="18.0" width="181.8" height="122.6" fill="none" stroke="#444" stroke-width="1"/>
<path clip-path="url(#cpb)" d="M190.5,106.0 191.8,112.4 194.4,117.6 197.0,122.7 199.5,125.3 202.1,127.8 204.7,125.3 207.2,122.7 209.0,124.7 210.6,120.6 212.4,130.4 213.6,135.5 215.7,134.2 217.5,136.8 220.1,138.6 223.9,139.4 229.0,140.1 239.3,140.6 273.9,140.6 276.5,138.1 278.0,135.4 280.6,129.0 283.1,125.1 285.7,122.6 288.2,117.4 290.8,112.3 293.4,99.5 295.6,78.0 296.4,73.3 297.2,70.1 298.0,68.5 298.8,65.4 299.6,62.2 300.3,60.7 301.1,59.1 301.9,57.5 302.7,54.4 303.5,62.2 304.3,54.4 305.1,44.9 305.9,33.9 306.6,38.6 307.4,54.4 308.2,63.8 309.0,60.7 309.8,59.1 310.6,52.8 311.4,49.6 312.2,54.4 312.9,46.5 313.7,44.9 314.5,43.3 315.3,49.6 316.1,55.9 316.9,62.2 317.7,73.3 318.5,65.4 319.2,59.1 320.0,70.1 320.8,81.1 321.6,78.0 322.0,55.9 322.8,62.2 323.6,60.7 324.4,54.4 325.2,59.1 325.9,62.2 326.7,60.7 327.5,63.8 328.3,62.2 329.1,67.0 329.9,63.8 330.7,70.1 331.4,67.0 332.2,62.2 333.0,67.0 333.8,71.7 334.6,74.8 335.4,71.7 336.2,76.4 337.0,81.1 337.7,78.0 338.5,79.6 339.3,78.0 340.1,82.7 340.9,84.3 341.7,82.7 342.5,81.1 343.3,78.0 344.0,74.8 344.8,73.3 345.6,71.7 346.4,68.5 347.2,67.0 348.0,62.2 348.8,57.5 349.6,59.1 350.3,62.2 351.1,67.0 351.9,62.2 352.7,59.1 353.5,68.5 354.3,74.8 355.1,78.0 355.9,82.7 356.6,85.9 357.4,89.0 358.2,85.9 359.0,84.3 359.8,87.4 360.6,90.6 361.4,82.7 362.2,84.3 362.9,78.0 363.7,81.1 364.5,74.8 365.3,71.7 366.1,68.5 366.9,76.4 367.7,70.1 368.5,67.0 369.2,62.2 370.0,59.1 370.8,54.4 371.6,46.5 372.2,38.6 372.3,48.3" fill="none" stroke="#000" stroke-width="1.15" stroke-linejoin="round"/>
<path clip-path="url(#cpb)" d="M190.6,48.3 193.1,56.0 194.4,15.0 195.7,74.0 197.7,15.0 199.5,15.0 202.1,61.2 204.7,84.2 205.9,62.4 207.2,70.1 208.5,58.6 211.1,66.3 213.6,56.0 216.2,71.4 220.1,57.3 222.6,74.0 225.2,68.8 227.7,84.2 230.3,91.9 232.1,71.4 233.6,99.6 235.4,94.5 237.2,104.7 239.3,122.7 241.1,138.1 241.8,141.2 272.6,141.2 273.9,138.1 276.5,135.5 278.0,135.4 280.6,127.7 283.1,125.1 285.7,117.4 288.2,107.2 290.8,94.4 290.9,95.0 292.5,84.3 294.0,73.3 294.8,65.4 295.6,55.9 296.4,52.8 297.2,46.5 298.0,40.2 298.8,33.9 299.6,32.3 300.3,30.8 301.1,24.4 301.9,21.3 302.7,15.8 303.5,24.4 304.3,15.8 305.1,30.8 305.9,15.8 306.6,24.4 307.4,37.1 308.2,46.5 309.0,52.8 309.8,46.5 310.6,38.6 311.4,30.8 312.2,24.4 312.9,15.8 313.7,27.6 314.5,15.8 315.3,24.4 316.1,15.8 317.7,21.3 319.2,15.8 321.6,15.8 322.0,24.4 323.6,15.8 325.2,22.9 326.7,15.8 328.3,24.4 329.9,15.8 331.4,22.9 333.0,15.8 334.6,24.4 336.2,15.8 337.7,22.9 339.3,15.8 340.9,24.4 342.5,15.8 344.0,22.9 345.6,15.8 350.3,11.8 355.1,15.8 356.6,30.8 357.4,22.9 358.2,46.5 359.0,33.9 359.8,24.4 360.6,48.1 361.4,30.8 362.2,15.8 362.9,46.5 363.7,38.6 364.5,30.8 365.3,24.4 366.1,37.1 366.9,15.8 367.7,30.8 368.5,15.8 372.2,15.8 372.3,13.7" fill="none" stroke="#ff0000" stroke-width="1.15" stroke-linejoin="round"/>
<path clip-path="url(#cpb)" d="M208.0,17.1 208.8,21.9 209.5,17.1" fill="none" stroke="#ff0000" stroke-width="1.15" stroke-linejoin="round"/>
<path clip-path="url(#cpb)" d="M217.0,17.1 217.7,21.9 218.5,17.1" fill="none" stroke="#ff0000" stroke-width="1.15" stroke-linejoin="round"/>
<path clip-path="url(#cpb)" d="M190.6,107.3 191.8,99.6 193.1,113.7 195.2,99.6 197.0,116.3 199.5,102.2 200.8,115.0 203.4,117.6 205.9,116.3 208.5,104.7 210.6,116.3 213.6,120.1 216.2,115.0 218.3,111.2 220.1,121.4 223.9,125.3 227.7,127.8 230.3,129.1 232.9,124.0 234.7,131.7 236.7,129.1 239.3,135.5 241.1,139.4 242.4,141.2 275.2,141.2 277.7,140.1 278.0,137.9 280.6,135.4 283.1,132.8 285.7,127.7 288.2,120.0 290.8,112.3 293.4,102.1 295.9,94.4 298.5,86.7 299.6,85.9 300.3,84.3 301.1,87.4 301.9,81.1 302.7,78.0 303.5,82.7 304.3,79.6 305.1,85.9 305.9,89.0 306.6,90.6 308.2,92.2 309.8,93.7 311.4,92.2 312.9,93.7 314.5,90.6 316.1,93.7 317.7,92.2 319.2,89.0 320.8,92.2 322.0,90.6 322.8,84.3 323.6,81.1 324.4,87.4 325.2,82.7 325.9,89.0 326.7,82.7 327.5,85.9 328.3,89.0 329.1,84.3 329.9,87.4 330.7,81.1 331.4,82.7 332.2,87.4 333.0,84.3 333.8,78.0 334.6,81.1 335.4,67.0 336.2,59.1 337.0,54.4 337.7,62.2 338.5,74.8 339.3,78.0 340.1,82.7 340.9,87.4 341.7,81.1 342.5,78.0 343.3,74.8 344.0,73.3 344.8,78.0 345.6,74.8 346.4,70.1 347.2,71.7 348.0,68.5 348.8,62.2 349.6,59.1 350.3,55.9 351.1,54.4 351.9,57.5 352.7,62.2 353.5,70.1 354.3,74.8 355.1,78.0 355.9,81.1 356.6,84.3 357.4,87.4 358.2,90.6 359.0,93.7 359.8,87.4 360.6,89.0 361.4,82.7 362.2,85.9 362.9,89.0 363.7,81.1 364.5,84.3 365.3,78.0 366.1,81.1 366.9,74.8 367.7,78.0 368.5,73.3 369.2,74.8 370.0,71.7 370.8,73.3 371.6,70.1 372.2,68.5 372.3,71.3" fill="none" stroke="#00e000" stroke-width="1.15" stroke-linejoin="round"/>
<text x="190.5" y="148.9" text-anchor="middle" style="font-family:'Liberation Sans',Arial,sans-serif;font-weight:bold;stroke:#000;stroke-width:0.45px;font-size:7.5px">0</text>
<text x="205.7" y="148.9" text-anchor="middle" style="font-family:'Liberation Sans',Arial,sans-serif;font-weight:bold;stroke:#000;stroke-width:0.45px;font-size:7.5px">0.5</text>
<text x="220.8" y="148.9" text-anchor="middle" style="font-family:'Liberation Sans',Arial,sans-serif;font-weight:bold;stroke:#000;stroke-width:0.45px;font-size:7.5px">1</text>
<text x="235.9" y="148.9" text-anchor="middle" style="font-family:'Liberation Sans',Arial,sans-serif;font-weight:bold;stroke:#000;stroke-width:0.45px;font-size:7.5px">1.5</text>
<text x="251.1" y="148.9" text-anchor="middle" style="font-family:'Liberation Sans',Arial,sans-serif;font-weight:bold;stroke:#000;stroke-width:0.45px;font-size:7.5px">2</text>
<text x="266.2" y="148.9" text-anchor="middle" style="font-family:'Liberation Sans',Arial,sans-serif;font-weight:bold;stroke:#000;stroke-width:0.45px;font-size:7.5px">2.5</text>
<text x="281.4" y="148.9" text-anchor="middle" style="font-family:'Liberation Sans',Arial,sans-serif;font-weight:bold;stroke:#000;stroke-width:0.45px;font-size:7.5px">3</text>
<text x="296.6" y="148.9" text-anchor="middle" style="font-family:'Liberation Sans',Arial,sans-serif;font-weight:bold;stroke:#000;stroke-width:0.45px;font-size:7.5px">3.5</text>
<text x="311.7" y="148.9" text-anchor="middle" style="font-family:'Liberation Sans',Arial,sans-serif;font-weight:bold;stroke:#000;stroke-width:0.45px;font-size:7.5px">4</text>
<text x="326.9" y="148.9" text-anchor="middle" style="font-family:'Liberation Sans',Arial,sans-serif;font-weight:bold;stroke:#000;stroke-width:0.45px;font-size:7.5px">4.5</text>
<text x="342.0" y="148.9" text-anchor="middle" style="font-family:'Liberation Sans',Arial,sans-serif;font-weight:bold;stroke:#000;stroke-width:0.45px;font-size:7.5px">5</text>
<text x="357.1" y="148.9" text-anchor="middle" style="font-family:'Liberation Sans',Arial,sans-serif;font-weight:bold;stroke:#000;stroke-width:0.45px;font-size:7.5px">5.5</text>
<text x="372.3" y="148.9" text-anchor="middle" style="font-family:'Liberation Sans',Arial,sans-serif;font-weight:bold;stroke:#000;stroke-width:0.45px;font-size:7.5px">6</text>
<text x="188.7" y="143.6" text-anchor="end" style="font-family:'Liberation Sans',Arial,sans-serif;font-weight:bold;stroke:#000;stroke-width:0.45px;font-size:7.5px">0</text>
<text x="188.7" y="119.1" text-anchor="end" style="font-family:'Liberation Sans',Arial,sans-serif;font-weight:bold;stroke:#000;stroke-width:0.45px;font-size:7.5px">0.02</text>
<text x="188.7" y="94.6" text-anchor="end" style="font-family:'Liberation Sans',Arial,sans-serif;font-weight:bold;stroke:#000;stroke-width:0.45px;font-size:7.5px">0.04</text>
<text x="188.7" y="70.0" text-anchor="end" style="font-family:'Liberation Sans',Arial,sans-serif;font-weight:bold;stroke:#000;stroke-width:0.45px;font-size:7.5px">0.06</text>
<text x="188.7" y="45.5" text-anchor="end" style="font-family:'Liberation Sans',Arial,sans-serif;font-weight:bold;stroke:#000;stroke-width:0.45px;font-size:7.5px">0.08</text>
<text x="188.7" y="21.0" text-anchor="end" style="font-family:'Liberation Sans',Arial,sans-serif;font-weight:bold;stroke:#000;stroke-width:0.45px;font-size:7.5px">0.1</text>
<text x="281.4" y="158.1" text-anchor="middle" style="font-family:'Liberation Sans',Arial,sans-serif;font-weight:bold;stroke:#000;stroke-width:0.45px;font-size:7.5px">Energy (eV)</text>
<text transform="translate(170.5,79.0) rotate(-90)" text-anchor="middle" style="font-family:'Liberation Sans',Arial,sans-serif;font-weight:bold;stroke:#000;stroke-width:0.45px;font-size:7.4px">Projected density of states (states/cell)</text>
<text x="226.1" y="9.6" style="font-family:'Liberation Serif','Times New Roman',serif;font-weight:bold;font-size:14.2px;stroke:#000;stroke-width:0.3px;word-spacing:0.2px">Si layer 1</text>
<text x="205.9" y="43.6" style="font-family:'Liberation Serif','Times New Roman',serif;font-weight:bold;font-size:20px">(b)</text>
<rect x="317.7" y="27.1" width="37.5" height="24.9" fill="#fff" stroke="#444" stroke-width="0.9"/>
<line x1="319.5" y1="32.3" x2="327.5" y2="32.3" stroke="#333" stroke-width="1"/>
<text x="353.6" y="35.1" text-anchor="end" style="font-family:'Liberation Sans',Arial,sans-serif;font-weight:bold;stroke:#000;stroke-width:0.45px;font-size:7.9px">s-DOS</text>
<line x1="319.5" y1="39.9" x2="327.5" y2="39.9" stroke="#ff2020" stroke-width="1"/>
<text x="353.6" y="42.8" text-anchor="end" style="font-family:'Liberation Sans',Arial,sans-serif;font-weight:bold;stroke:#000;stroke-width:0.45px;font-size:7.9px">p-DOS</text>
<line x1="319.5" y1="48.1" x2="327.5" y2="48.1" stroke="#20e020" stroke-width="1"/>
<text x="353.6" y="51.0" text-anchor="end" style="font-family:'Liberation Sans',Arial,sans-serif;font-weight:bold;stroke:#000;stroke-width:0.45px;font-size:7.9px">d-DOS</text>
<clipPath id="cpe"><rect x="416.9" y="18.7" width="184.09999999999997" height="124.20000000000002"/></clipPath>
<path d="M417.5,142.3v-3M417.5,19.3v3M425.1,142.3v-1.6M425.1,19.3v1.6M432.7,142.3v-3M432.7,19.3v3M440.4,142.3v-1.6M440.4,19.3v1.6M448.0,142.3v-3M448.0,19.3v3M455.6,142.3v-1.6M455.6,19.3v1.6M463.2,142.3v-3M463.2,19.3v3M470.8,142.3v-1.6M470.8,19.3v1.6M478.5,142.3v-3M478.5,19.3v3M486.1,142.3v-1.6M486.1,19.3v1.6M493.7,142.3v-3M493.7,19.3v3M501.3,142.3v-1.6M501.3,19.3v1.6M508.9,142.3v-3M508.9,19.3v3M516.6,142.3v-1.6M516.6,19.3v1.6M524.2,142.3v-3M524.2,19.3v3M531.8,142.3v-1.6M531.8,19.3v1.6M539.4,142.3v-3M539.4,19.3v3M547.1,142.3v-1.6M547.1,19.3v1.6M554.7,142.3v-3M554.7,19.3v3M562.3,142.3v-1.6M562.3,19.3v1.6M569.9,142.3v-3M569.9,19.3v3M577.5,142.3v-1.6M577.5,19.3v1.6M585.2,142.3v-3M585.2,19.3v3M592.8,142.3v-1.6M592.8,19.3v1.6M600.4,142.3v-3M600.4,19.3v3M417.5,142.3h3M600.4,142.3h-3M417.5,130.0h1.6M600.4,130.0h-1.6M417.5,117.7h3M600.4,117.7h-3M417.5,105.4h1.6M600.4,105.4h-1.6M417.5,93.1h3M600.4,93.1h-3M417.5,80.8h1.6M600.4,80.8h-1.6M417.5,68.5h3M600.4,68.5h-3M417.5,56.2h1.6M600.4,56.2h-1.6M417.5,43.9h3M600.4,43.9h-3M417.5,31.6h1.6M600.4,31.6h-1.6M417.5,19.3h3M600.4,19.3h-3" stroke="#444" stroke-width="0.9" fill="none"/>
<rect x="417.5" y="19.3" width="182.89999999999998" height="123.00000000000001" fill="none" stroke="#444" stroke-width="1"/>
<path clip-path="url(#cpe)" d="M417.6,138.9 418.8,140.5 420.1,139.4 421.4,140.7 422.7,140.2 425.2,141.0 427.8,141.5 432.9,141.7 440.6,142.0 466.2,142.3 499.5,142.3 506.0,142.3 508.6,141.3 511.1,140.0 513.7,138.8 516.2,136.2 518.8,133.7 521.3,129.8 523.9,126.0 525.2,123.4 526.5,122.1 527.7,124.7 529.0,126.0 530.3,128.5 531.6,126.0 532.9,123.4 534.1,122.1 535.4,124.7 536.7,128.5 538.0,129.8 539.2,132.4 540.5,129.8 541.8,133.7 543.1,131.1 544.4,132.4 545.6,129.8 546.9,132.4 548.2,129.8 549.5,128.5 550.8,131.1 552.0,128.5 553.3,126.0 554.6,127.3 555.9,129.8 557.2,128.5 558.4,126.0 559.7,123.4 562.3,122.1 564.8,120.9 567.4,118.3 569.9,117.0 572.5,115.7 575.1,114.5 577.6,117.0 578.9,113.2 579.7,104.2 580.7,113.2 581.7,123.4 582.7,126.0 584.0,128.5 585.3,131.1 586.6,133.7 587.8,129.8 589.1,132.4 590.4,133.7 591.7,129.8 593.0,131.1 594.2,128.5 595.5,129.8 596.8,126.0 598.1,123.4 599.4,120.9 600.4,117.0" fill="none" stroke="#000" stroke-width="1.15" stroke-linejoin="round"/>
<path clip-path="url(#cpe)" d="M417.6,33.9 417.8,41.6 418.1,49.3 418.3,56.2 418.8,67.2 419.6,57.0 420.1,56.2 420.6,64.7 421.4,56.2 422.2,67.2 422.7,56.2 424.0,56.2 424.7,64.7 425.8,57.0 426.3,56.2 427.8,59.5 429.1,56.2 430.4,65.9 431.1,68.5 431.9,56.2 434.2,56.2 436.8,56.2 439.3,56.2 440.1,67.2 441.1,74.9 442.1,78.7 443.2,77.5 444.5,80.0 445.7,77.5 447.0,81.3 448.3,83.9 449.6,81.3 450.9,85.1 452.1,76.2 453.4,83.9 454.7,87.7 456.0,92.8 456.7,96.7 457.8,97.9 458.5,90.3 459.8,77.5 460.6,92.8 461.1,103.1 462.4,105.6 463.7,100.5 464.4,96.7 464.9,103.1 465.7,113.3 466.2,118.4 467.0,126.1 468.0,142.3 496.9,142.3 499.5,141.5 502.1,140.2 504.6,136.4 505.9,131.2 506.0,133.7 507.3,123.4 508.6,126.0 509.8,122.1 511.1,118.3 512.4,115.7 513.7,110.6 515.0,105.5 516.2,100.4 517.5,95.3 518.8,92.7 520.1,90.2 521.3,85.1 522.6,74.8 523.9,67.1 525.2,59.5 525.9,51.8 527.0,54.4 527.7,59.5 529.0,62.0 530.3,67.1 531.6,64.6 532.9,74.8 534.1,69.7 534.9,82.5 535.9,77.4 536.7,85.1 538.0,90.2 539.2,87.6 540.5,95.3 541.8,100.4 543.1,95.3 544.4,108.1 545.6,100.4 546.9,103.0 548.2,92.7 549.5,97.8 550.8,95.3 552.0,85.1 553.3,97.8 554.6,87.6 555.9,105.5 557.2,100.4 558.4,92.7 559.7,85.1 561.0,92.7 562.3,87.6 563.5,97.8 564.8,95.3 566.1,85.1 567.4,82.5 568.7,79.9 569.9,82.5 571.2,77.4 572.5,74.8 573.8,72.3 575.1,77.4 576.3,69.7 577.6,67.1 578.9,64.6 579.7,54.4 580.7,62.0 581.7,69.7 582.7,77.4 584.0,82.5 585.3,87.6 586.6,92.7 587.8,97.8 589.1,87.6 590.4,85.1 591.7,74.8 593.0,82.5 594.2,74.8 595.5,67.1 596.8,26.2 597.6,49.3 598.6,62.0 599.6,54.4 600.4,36.5" fill="none" stroke="#ff0000" stroke-width="1.15" stroke-linejoin="round"/>
<path clip-path="url(#cpe)" d="M417.8,21.4 420.1,21.4" fill="none" stroke="#ff0000" stroke-width="1.15" stroke-linejoin="round"/>
<path clip-path="url(#cpe)" d="M424.0,21.4 427.0,21.4" fill="none" stroke="#ff0000" stroke-width="1.15" stroke-linejoin="round"/>
<path clip-path="url(#cpe)" d="M417.6,142.1 506.0,142.1 600.4,142.1" fill="none" stroke="#00e000" stroke-width="1.15" stroke-linejoin="round"/>
<text x="417.5" y="150.6" text-anchor="middle" style="font-family:'Liberation Sans',Arial,sans-serif;font-weight:bold;stroke:#000;stroke-width:0.45px;font-size:7.5px">0</text>
<text x="432.7" y="150.6" text-anchor="middle" style="font-family:'Liberation Sans',Arial,sans-serif;font-weight:bold;stroke:#000;stroke-width:0.45px;font-size:7.5px">0.5</text>
<text x="448.0" y="150.6" text-anchor="middle" style="font-family:'Liberation Sans',Arial,sans-serif;font-weight:bold;stroke:#000;stroke-width:0.45px;font-size:7.5px">1</text>
<text x="463.2" y="150.6" text-anchor="middle" style="font-family:'Liberation Sans',Arial,sans-serif;font-weight:bold;stroke:#000;stroke-width:0.45px;font-size:7.5px">1.5</text>
<text x="478.5" y="150.6" text-anchor="middle" style="font-family:'Liberation Sans',Arial,sans-serif;font-weight:bold;stroke:#000;stroke-width:0.45px;font-size:7.5px">2</text>
<text x="493.7" y="150.6" text-anchor="middle" style="font-family:'Liberation Sans',Arial,sans-serif;font-weight:bold;stroke:#000;stroke-width:0.45px;font-size:7.5px">2.5</text>
<text x="508.9" y="150.6" text-anchor="middle" style="font-family:'Liberation Sans',Arial,sans-serif;font-weight:bold;stroke:#000;stroke-width:0.45px;font-size:7.5px">3</text>
<text x="524.2" y="150.6" text-anchor="middle" style="font-family:'Liberation Sans',Arial,sans-serif;font-weight:bold;stroke:#000;stroke-width:0.45px;font-size:7.5px">3.5</text>
<text x="539.4" y="150.6" text-anchor="middle" style="font-family:'Liberation Sans',Arial,sans-serif;font-weight:bold;stroke:#000;stroke-width:0.45px;font-size:7.5px">4</text>
<text x="554.7" y="150.6" text-anchor="middle" style="font-family:'Liberation Sans',Arial,sans-serif;font-weight:bold;stroke:#000;stroke-width:0.45px;font-size:7.5px">4.5</text>
<text x="569.9" y="150.6" text-anchor="middle" style="font-family:'Liberation Sans',Arial,sans-serif;font-weight:bold;stroke:#000;stroke-width:0.45px;font-size:7.5px">5</text>
<text x="585.2" y="150.6" text-anchor="middle" style="font-family:'Liberation Sans',Arial,sans-serif;font-weight:bold;stroke:#000;stroke-width:0.45px;font-size:7.5px">5.5</text>
<text x="600.4" y="150.6" text-anchor="middle" style="font-family:'Liberation Sans',Arial,sans-serif;font-weight:bold;stroke:#000;stroke-width:0.45px;font-size:7.5px">6</text>
<text x="415.7" y="145.3" text-anchor="end" style="font-family:'Liberation Sans',Arial,sans-serif;font-weight:bold;stroke:#000;stroke-width:0.45px;font-size:7.5px">0</text>
<text x="415.7" y="120.7" text-anchor="end" style="font-family:'Liberation Sans',Arial,sans-serif;font-weight:bold;stroke:#000;stroke-width:0.45px;font-size:7.5px">0.02</text>
<text x="415.7" y="96.1" text-anchor="end" style="font-family:'Liberation Sans',Arial,sans-serif;font-weight:bold;stroke:#000;stroke-width:0.45px;font-size:7.5px">0.04</text>
<text x="415.7" y="71.5" text-anchor="end" style="font-family:'Liberation Sans',Arial,sans-serif;font-weight:bold;stroke:#000;stroke-width:0.45px;font-size:7.5px">0.06</text>
<text x="415.7" y="46.9" text-anchor="end" style="font-family:'Liberation Sans',Arial,sans-serif;font-weight:bold;stroke:#000;stroke-width:0.45px;font-size:7.5px">0.08</text>
<text x="415.7" y="22.3" text-anchor="end" style="font-family:'Liberation Sans',Arial,sans-serif;font-weight:bold;stroke:#000;stroke-width:0.45px;font-size:7.5px">0.1</text>
<text x="508.9" y="159.8" text-anchor="middle" style="font-family:'Liberation Sans',Arial,sans-serif;font-weight:bold;stroke:#000;stroke-width:0.45px;font-size:7.5px">Energy (eV)</text>
<text transform="translate(397.5,80.5) rotate(-90)" text-anchor="middle" style="font-family:'Liberation Sans',Arial,sans-serif;font-weight:bold;stroke:#000;stroke-width:0.45px;font-size:7.4px">Projected density of states (states/cell)</text>
<text x="450.7" y="9.4" style="font-family:'Liberation Serif','Times New Roman',serif;font-weight:bold;font-size:14.2px;stroke:#000;stroke-width:0.3px;word-spacing:0.2px">O layer 1</text>
<text x="425.9" y="43.6" style="font-family:'Liberation Serif','Times New Roman',serif;font-weight:bold;font-size:20px">(e)</text>
<rect x="544.9" y="28.4" width="38.200000000000045" height="25.6" fill="#fff" stroke="#444" stroke-width="0.9"/>
<line x1="546.7" y1="33.3" x2="554.7" y2="33.3" stroke="#333" stroke-width="1"/>
<text x="581.5" y="36.1" text-anchor="end" style="font-family:'Liberation Sans',Arial,sans-serif;font-weight:bold;stroke:#000;stroke-width:0.45px;font-size:7.9px">s-DOS</text>
<line x1="546.7" y1="41.2" x2="554.7" y2="41.2" stroke="#ff2020" stroke-width="1"/>
<text x="581.5" y="44.1" text-anchor="end" style="font-family:'Liberation Sans',Arial,sans-serif;font-weight:bold;stroke:#000;stroke-width:0.45px;font-size:7.9px">p-DOS</text>
<line x1="546.7" y1="49.6" x2="554.7" y2="49.6" stroke="#20e020" stroke-width="1"/>
<text x="581.5" y="52.5" text-anchor="end" style="font-family:'Liberation Sans',Arial,sans-serif;font-weight:bold;stroke:#000;stroke-width:0.45px;font-size:7.9px">d-DOS</text>
<clipPath id="cpc"><rect x="189.9" y="188.70000000000002" width="182.7" height="123.2"/></clipPath>
<path d="M190.5,311.3v-3M190.5,189.3v3M198.1,311.3v-1.6M198.1,189.3v1.6M205.6,311.3v-3M205.6,189.3v3M213.2,311.3v-1.6M213.2,189.3v1.6M220.8,311.3v-3M220.8,189.3v3M228.3,311.3v-1.6M228.3,189.3v1.6M235.9,311.3v-3M235.9,189.3v3M243.4,311.3v-1.6M243.4,189.3v1.6M251.0,311.3v-3M251.0,189.3v3M258.6,311.3v-1.6M258.6,189.3v1.6M266.1,311.3v-3M266.1,189.3v3M273.7,311.3v-1.6M273.7,189.3v1.6M281.2,311.3v-3M281.2,189.3v3M288.8,311.3v-1.6M288.8,189.3v1.6M296.4,311.3v-3M296.4,189.3v3M303.9,311.3v-1.6M303.9,189.3v1.6M311.5,311.3v-3M311.5,189.3v3M319.1,311.3v-1.6M319.1,189.3v1.6M326.6,311.3v-3M326.6,189.3v3M334.2,311.3v-1.6M334.2,189.3v1.6M341.8,311.3v-3M341.8,189.3v3M349.3,311.3v-1.6M349.3,189.3v1.6M356.9,311.3v-3M356.9,189.3v3M364.4,311.3v-1.6M364.4,189.3v1.6M372.0,311.3v-3M372.0,189.3v3M190.5,311.3h3M372.0,311.3h-3M190.5,299.1h1.6M372.0,299.1h-1.6M190.5,286.9h3M372.0,286.9h-3M190.5,274.7h1.6M372.0,274.7h-1.6M190.5,262.5h3M372.0,262.5h-3M190.5,250.3h1.6M372.0,250.3h-1.6M190.5,238.1h3M372.0,238.1h-3M190.5,225.9h1.6M372.0,225.9h-1.6M190.5,213.7h3M372.0,213.7h-3M190.5,201.5h1.6M372.0,201.5h-1.6M190.5,189.3h3M372.0,189.3h-3" stroke="#444" stroke-width="0.9" fill="none"/>
<rect x="190.5" y="189.3" width="181.5" height="122.0" fill="none" stroke="#444" stroke-width="1"/>
<path clip-path="url(#cpc)" d="M190.6,301.4 191.8,300.1 193.1,302.7 195.2,298.8 196.2,296.3 197.7,300.1 199.5,297.5 200.8,298.8 202.1,300.1 203.4,298.8 205.9,297.5 208.5,298.8 211.1,296.3 212.4,301.4 213.6,306.5 214.9,307.8 216.2,307.0 218.8,309.1 222.6,310.4 226.5,310.9 239.3,311.4 269.0,311.4 269.5,306.5 270.6,296.3 271.6,303.9 273.9,302.7 276.5,298.8 278.0,296.1 280.6,288.4 283.1,283.3 285.7,278.2 288.2,270.5 289.3,266.0 290.9,255.3 292.5,242.7 294.0,230.1 294.8,217.5 295.6,204.9 296.4,193.9 296.9,187.6 298.8,186.8 303.5,186.8 307.4,187.6 308.2,189.3 309.0,195.4 309.8,201.7 310.6,214.3 311.4,223.8 312.2,214.3 312.9,209.6 313.7,217.5 314.5,209.6 315.3,217.5 316.1,226.9 316.9,220.6 317.7,230.1 318.5,233.2 319.2,236.4 320.0,230.1 320.8,233.2 321.6,238.0 322.0,222.2 322.8,230.1 323.6,233.2 324.4,225.4 325.1,231.7 325.9,236.4 326.7,230.1 327.5,233.2 328.3,238.0 329.1,245.8 329.9,239.5 330.7,249.0 331.4,244.3 332.2,241.1 333.0,245.8 333.8,252.1 334.6,247.4 335.4,253.7 336.2,249.0 337.0,245.8 337.7,241.1 338.5,249.0 339.3,250.6 340.1,255.3 340.9,252.1 341.7,256.9 342.5,253.7 343.3,249.0 344.0,252.1 344.8,245.8 345.6,250.6 346.4,245.8 347.2,249.0 348.0,242.7 348.8,239.5 349.6,241.1 350.3,238.0 351.1,236.4 351.9,242.7 352.7,245.8 353.5,252.1 354.3,250.6 355.1,255.3 355.9,258.4 356.6,256.9 357.4,261.6 358.2,258.4 359.0,260.0 359.8,263.2 360.6,260.0 361.4,258.4 362.2,263.2 362.9,260.0 363.7,261.6 364.5,258.4 365.3,260.0 366.1,261.6 366.9,255.3 367.7,252.1 368.5,245.8 369.2,242.7 370.0,249.0 370.8,242.7 371.9,238.0 372.0,244.9" fill="none" stroke="#000" stroke-width="1.15" stroke-linejoin="round"/>
<path clip-path="url(#cpc)" d="M219.3,227.0 220.1,234.7 221.3,245.0 222.6,255.2 223.9,253.9 224.7,259.1 225.7,257.8 226.5,262.9 227.7,270.6 229.0,275.7 230.3,280.9 231.6,274.5 232.4,273.2 233.1,283.4 234.2,286.0 235.4,288.6 236.7,287.3 237.2,293.7 238.5,298.8 239.8,306.5 240.8,311.4 275.2,311.4 276.5,296.3 277.7,288.6 278.0,293.5 279.3,288.4 280.6,283.3 281.8,284.6 283.1,280.8 284.4,279.5 285.7,273.1 287.0,267.9 288.2,262.8 289.5,255.1 290.1,266.0 291.7,255.3 293.3,242.7 294.8,228.5 295.6,217.5 296.4,209.6 297.2,201.7 298.0,198.6 298.8,200.2 299.6,195.4 300.3,197.0 301.1,192.3 301.9,187.6 302.7,195.4 303.5,190.7 304.3,187.6 305.1,198.6 305.9,187.6 306.6,195.4 307.4,187.6 308.2,201.7 309.0,206.5 309.8,209.6 310.6,195.4 311.4,186.8 314.5,182.8 321.6,182.8 322.0,182.8 328.0,186.8 328.3,189.8 329.1,195.4 329.9,189.8 330.2,186.8 337.7,182.8 371.9,182.8 372.0,175.8" fill="none" stroke="#ff0000" stroke-width="1.15" stroke-linejoin="round"/>
<path clip-path="url(#cpc)" d="M212.1,188.1 212.9,192.2 213.6,188.1" fill="none" stroke="#ff0000" stroke-width="1.15" stroke-linejoin="round"/>
<path clip-path="url(#cpc)" d="M217.2,188.1 218.0,192.2 218.8,188.1" fill="none" stroke="#ff0000" stroke-width="1.15" stroke-linejoin="round"/>
<path clip-path="url(#cpc)" d="M190.6,288.6 191.8,287.3 193.1,291.1 194.4,293.7 195.7,292.4 197.0,283.4 198.3,288.6 198.8,264.2 199.5,273.2 200.3,296.3 202.1,295.0 203.4,296.3 204.7,293.7 205.9,295.0 207.2,291.1 208.5,289.8 209.8,293.7 211.1,296.3 213.6,297.5 216.2,296.3 218.3,295.0 220.1,297.5 222.6,298.8 225.2,300.1 227.7,301.4 230.3,302.7 231.6,303.9 232.9,301.4 234.2,306.0 236.7,306.5 239.3,309.1 240.6,311.4 271.3,311.4 273.9,306.5 276.5,301.4 278.0,301.2 280.6,296.1 283.1,288.4 285.7,283.3 288.2,278.2 290.8,267.9 292.5,266.0 294.0,256.9 295.6,245.8 297.2,236.4 298.0,228.5 298.8,231.7 299.6,226.9 300.3,223.8 301.1,230.1 301.9,233.2 302.7,223.8 303.5,228.5 304.3,236.4 305.1,230.1 305.9,217.5 306.6,209.6 307.4,225.4 308.2,238.0 309.0,234.8 309.8,242.7 310.6,238.0 311.4,233.2 312.2,241.1 312.9,233.2 313.7,228.5 314.5,234.8 315.3,239.5 316.1,249.0 316.9,255.3 317.7,245.8 318.5,233.2 319.2,230.1 320.0,234.8 320.8,241.1 321.6,249.0 322.0,225.4 322.8,238.0 323.6,230.1 324.4,225.4 325.1,233.2 325.9,223.8 326.7,238.0 327.5,226.9 328.3,233.2 329.1,250.6 329.9,233.2 330.7,239.5 331.4,228.5 332.2,233.2 333.0,241.1 333.8,231.7 334.6,239.5 335.4,226.9 336.2,217.5 337.0,189.3 337.7,209.6 338.5,233.2 339.3,239.5 340.1,233.2 340.9,230.1 341.7,238.0 342.5,228.5 343.3,233.2 344.0,223.8 344.8,231.7 345.6,225.4 346.4,230.1 347.2,222.2 348.0,226.9 348.8,217.5 349.6,225.4 350.3,220.6 351.1,223.8 351.9,219.1 352.7,230.1 353.5,222.2 354.3,225.4 355.1,217.5 355.9,233.2 356.6,225.4 357.4,219.1 358.2,226.9 359.0,217.5 359.8,230.1 360.6,223.8 361.4,233.2 362.2,222.2 362.9,225.4 363.7,231.7 364.5,217.5 365.3,226.9 366.1,222.2 366.9,233.2 367.7,225.4 368.5,222.2 369.2,214.3 370.0,209.6 370.8,217.5 371.9,219.1 372.0,221.8" fill="none" stroke="#00e000" stroke-width="1.15" stroke-linejoin="round"/>
<text x="190.5" y="319.6" text-anchor="middle" style="font-family:'Liberation Sans',Arial,sans-serif;font-weight:bold;stroke:#000;stroke-width:0.45px;font-size:7.5px">0</text>
<text x="205.6" y="319.6" text-anchor="middle" style="font-family:'Liberation Sans',Arial,sans-serif;font-weight:bold;stroke:#000;stroke-width:0.45px;font-size:7.5px">0.5</text>
<text x="220.8" y="319.6" text-anchor="middle" style="font-family:'Liberation Sans',Arial,sans-serif;font-weight:bold;stroke:#000;stroke-width:0.45px;font-size:7.5px">1</text>
<text x="235.9" y="319.6" text-anchor="middle" style="font-family:'Liberation Sans',Arial,sans-serif;font-weight:bold;stroke:#000;stroke-width:0.45px;font-size:7.5px">1.5</text>
<text x="251.0" y="319.6" text-anchor="middle" style="font-family:'Liberation Sans',Arial,sans-serif;font-weight:bold;stroke:#000;stroke-width:0.45px;font-size:7.5px">2</text>
<text x="266.1" y="319.6" text-anchor="middle" style="font-family:'Liberation Sans',Arial,sans-serif;font-weight:bold;stroke:#000;stroke-width:0.45px;font-size:7.5px">2.5</text>
<text x="281.2" y="319.6" text-anchor="middle" style="font-family:'Liberation Sans',Arial,sans-serif;font-weight:bold;stroke:#000;stroke-width:0.45px;font-size:7.5px">3</text>
<text x="296.4" y="319.6" text-anchor="middle" style="font-family:'Liberation Sans',Arial,sans-serif;font-weight:bold;stroke:#000;stroke-width:0.45px;font-size:7.5px">3.5</text>
<text x="311.5" y="319.6" text-anchor="middle" style="font-family:'Liberation Sans',Arial,sans-serif;font-weight:bold;stroke:#000;stroke-width:0.45px;font-size:7.5px">4</text>
<text x="326.6" y="319.6" text-anchor="middle" style="font-family:'Liberation Sans',Arial,sans-serif;font-weight:bold;stroke:#000;stroke-width:0.45px;font-size:7.5px">4.5</text>
<text x="341.8" y="319.6" text-anchor="middle" style="font-family:'Liberation Sans',Arial,sans-serif;font-weight:bold;stroke:#000;stroke-width:0.45px;font-size:7.5px">5</text>
<text x="356.9" y="319.6" text-anchor="middle" style="font-family:'Liberation Sans',Arial,sans-serif;font-weight:bold;stroke:#000;stroke-width:0.45px;font-size:7.5px">5.5</text>
<text x="372.0" y="319.6" text-anchor="middle" style="font-family:'Liberation Sans',Arial,sans-serif;font-weight:bold;stroke:#000;stroke-width:0.45px;font-size:7.5px">6</text>
<text x="188.7" y="314.3" text-anchor="end" style="font-family:'Liberation Sans',Arial,sans-serif;font-weight:bold;stroke:#000;stroke-width:0.45px;font-size:7.5px">0</text>
<text x="188.7" y="289.9" text-anchor="end" style="font-family:'Liberation Sans',Arial,sans-serif;font-weight:bold;stroke:#000;stroke-width:0.45px;font-size:7.5px">0.02</text>
<text x="188.7" y="265.5" text-anchor="end" style="font-family:'Liberation Sans',Arial,sans-serif;font-weight:bold;stroke:#000;stroke-width:0.45px;font-size:7.5px">0.04</text>
<text x="188.7" y="241.1" text-anchor="end" style="font-family:'Liberation Sans',Arial,sans-serif;font-weight:bold;stroke:#000;stroke-width:0.45px;font-size:7.5px">0.06</text>
<text x="188.7" y="216.7" text-anchor="end" style="font-family:'Liberation Sans',Arial,sans-serif;font-weight:bold;stroke:#000;stroke-width:0.45px;font-size:7.5px">0.08</text>
<text x="188.7" y="192.3" text-anchor="end" style="font-family:'Liberation Sans',Arial,sans-serif;font-weight:bold;stroke:#000;stroke-width:0.45px;font-size:7.5px">0.1</text>
<text x="281.2" y="328.8" text-anchor="middle" style="font-family:'Liberation Sans',Arial,sans-serif;font-weight:bold;stroke:#000;stroke-width:0.45px;font-size:7.5px">Energy (eV)</text>
<text transform="translate(170.5,248.4) rotate(-90)" text-anchor="middle" style="font-family:'Liberation Sans',Arial,sans-serif;font-weight:bold;stroke:#000;stroke-width:0.45px;font-size:7.4px">Projected density of states (states/cell)</text>
<text x="226.1" y="179.3" style="font-family:'Liberation Serif','Times New Roman',serif;font-weight:bold;font-size:14.2px;stroke:#000;stroke-width:0.3px;word-spacing:0.2px">Si layer 3</text>
<text x="205.9" y="215.1" style="font-family:'Liberation Serif','Times New Roman',serif;font-weight:bold;font-size:20px">(c)</text>
<rect x="317.7" y="197.7" width="37.69999999999999" height="25.900000000000006" fill="#fff" stroke="#444" stroke-width="0.9"/>
<line x1="319.5" y1="202.8" x2="327.5" y2="202.8" stroke="#333" stroke-width="1"/>
<text x="353.8" y="205.7" text-anchor="end" style="font-family:'Liberation Sans',Arial,sans-serif;font-weight:bold;stroke:#000;stroke-width:0.45px;font-size:7.9px">s-DOS</text>
<line x1="319.5" y1="210.7" x2="327.5" y2="210.7" stroke="#ff2020" stroke-width="1"/>
<text x="353.8" y="213.5" text-anchor="end" style="font-family:'Liberation Sans',Arial,sans-serif;font-weight:bold;stroke:#000;stroke-width:0.45px;font-size:7.9px">p-DOS</text>
<line x1="319.5" y1="219.1" x2="327.5" y2="219.1" stroke="#20e020" stroke-width="1"/>
<text x="353.8" y="221.9" text-anchor="end" style="font-family:'Liberation Sans',Arial,sans-serif;font-weight:bold;stroke:#000;stroke-width:0.45px;font-size:7.9px">d-DOS</text>
<clipPath id="cpf"><rect x="418.09999999999997" y="187.9" width="182.89999999999998" height="123.80000000000003"/></clipPath>
<path d="M418.7,311.1v-3M418.7,188.5v3M426.3,311.1v-1.6M426.3,188.5v1.6M433.8,311.1v-3M433.8,188.5v3M441.4,311.1v-1.6M441.4,188.5v1.6M449.0,311.1v-3M449.0,188.5v3M456.6,311.1v-1.6M456.6,188.5v1.6M464.1,311.1v-3M464.1,188.5v3M471.7,311.1v-1.6M471.7,188.5v1.6M479.3,311.1v-3M479.3,188.5v3M486.8,311.1v-1.6M486.8,188.5v1.6M494.4,311.1v-3M494.4,188.5v3M502.0,311.1v-1.6M502.0,188.5v1.6M509.5,311.1v-3M509.5,188.5v3M517.1,311.1v-1.6M517.1,188.5v1.6M524.7,311.1v-3M524.7,188.5v3M532.3,311.1v-1.6M532.3,188.5v1.6M539.8,311.1v-3M539.8,188.5v3M547.4,311.1v-1.6M547.4,188.5v1.6M555.0,311.1v-3M555.0,188.5v3M562.5,311.1v-1.6M562.5,188.5v1.6M570.1,311.1v-3M570.1,188.5v3M577.7,311.1v-1.6M577.7,188.5v1.6M585.3,311.1v-3M585.3,188.5v3M592.8,311.1v-1.6M592.8,188.5v1.6M600.4,311.1v-3M600.4,188.5v3M418.7,311.1h3M600.4,311.1h-3M418.7,298.8h1.6M600.4,298.8h-1.6M418.7,286.6h3M600.4,286.6h-3M418.7,274.3h1.6M600.4,274.3h-1.6M418.7,262.1h3M600.4,262.1h-3M418.7,249.8h1.6M600.4,249.8h-1.6M418.7,237.5h3M600.4,237.5h-3M418.7,225.3h1.6M600.4,225.3h-1.6M418.7,213.0h3M600.4,213.0h-3M418.7,200.8h1.6M600.4,200.8h-1.6M418.7,188.5h3M600.4,188.5h-3" stroke="#444" stroke-width="0.9" fill="none"/>
<rect x="418.7" y="188.5" width="181.7" height="122.60000000000002" fill="none" stroke="#444" stroke-width="1"/>
<path clip-path="url(#cpf)" d="M418.7,310.0 422.7,310.5 430.4,310.5 440.6,310.7 453.4,311.0 502.1,311.0 506.0,311.1 511.1,310.3 516.2,307.8 518.8,305.2 521.3,301.4 523.9,297.5 526.5,295.0 529.0,292.4 530.3,289.9 531.6,288.6 532.9,292.4 534.1,289.9 535.4,296.3 536.7,297.5 538.0,298.8 539.2,297.5 540.5,300.1 541.8,298.8 543.1,302.7 544.4,297.5 545.6,298.8 546.9,296.3 548.2,297.5 549.5,295.0 550.8,297.5 552.0,292.4 553.3,293.7 554.6,292.4 555.9,291.1 557.2,295.0 558.4,289.9 559.7,292.4 561.0,287.3 562.3,292.4 563.5,289.9 564.8,287.3 566.1,283.5 567.4,289.9 568.7,288.6 569.9,289.9 571.2,287.3 572.5,289.9 573.8,286.0 575.1,287.3 576.3,286.0 577.6,284.7 578.9,282.2 580.2,278.4 580.9,287.3 581.7,289.9 582.7,292.4 584.0,289.9 585.3,293.7 586.6,292.4 587.8,295.0 589.1,292.4 590.4,297.5 591.7,293.7 593.0,292.4 594.2,295.0 595.5,292.4 596.8,297.5 598.1,292.4 600.4,287.3" fill="none" stroke="#000" stroke-width="1.15" stroke-linejoin="round"/>
<path clip-path="url(#cpf)" d="M418.7,225.2 419.4,236.2 420.1,225.2 420.6,229.8 421.4,243.9 422.2,225.2 423.2,236.2 424.0,225.2 424.7,251.6 425.2,256.7 426.0,249.0 426.8,225.2 427.8,225.2 428.3,238.8 429.1,249.0 429.9,259.3 430.9,267.0 431.6,270.8 432.4,274.6 432.9,269.5 433.4,273.4 434.2,261.8 435.0,264.4 435.5,254.1 436.3,251.6 437.0,247.7 437.5,254.1 438.0,261.8 438.8,269.5 439.6,274.6 440.6,277.2 441.9,279.8 443.2,277.2 444.4,272.1 445.2,261.8 445.7,260.5 446.5,269.5 447.3,279.8 448.3,284.9 449.6,287.4 450.9,290.0 452.1,288.7 453.4,291.3 454.7,292.6 456.0,295.1 457.3,297.7 458.5,300.2 459.8,297.7 460.6,295.1 461.4,300.2 462.4,302.8 463.7,304.1 464.9,302.8 465.7,305.4 467.0,307.9 468.0,310.5 468.8,311.0 502.1,311.0 504.6,310.5 506.0,309.0 508.6,307.8 511.1,305.2 513.7,301.4 516.2,295.0 518.8,287.3 521.3,279.6 523.9,272.0 525.2,266.8 526.5,261.7 527.7,264.3 529.0,261.7 530.3,260.4 531.6,269.4 532.3,264.3 533.1,261.7 534.1,272.0 535.4,282.2 536.7,279.6 538.0,284.7 539.2,282.2 540.5,287.3 541.8,284.7 543.1,292.4 544.4,282.2 545.6,287.3 546.9,289.9 548.2,279.6 549.5,287.3 550.8,286.0 552.0,282.2 553.3,277.1 554.6,284.7 555.9,279.6 557.2,287.3 558.4,282.2 559.7,284.7 561.0,279.6 562.3,282.2 563.5,277.1 564.8,279.6 566.1,269.4 566.9,279.6 567.9,287.3 568.7,282.2 569.9,279.6 571.2,280.9 572.5,277.1 573.8,279.6 575.1,275.8 576.3,272.0 577.6,269.4 578.9,264.3 580.2,256.6 580.9,269.4 581.7,279.6 582.7,277.1 584.0,282.2 585.3,279.6 586.6,284.7 587.8,279.6 589.1,287.3 590.4,282.2 591.7,277.1 593.0,284.7 594.2,279.6 595.5,287.3 596.8,277.1 598.1,272.0 599.3,277.1 600.4,272.0" fill="none" stroke="#ff0000" stroke-width="1.15" stroke-linejoin="round"/>
<path clip-path="url(#cpf)" d="M418.7,311.0 506.0,311.1 600.4,311.1" fill="none" stroke="#00e000" stroke-width="1.15" stroke-linejoin="round"/>
<text x="418.7" y="319.4" text-anchor="middle" style="font-family:'Liberation Sans',Arial,sans-serif;font-weight:bold;stroke:#000;stroke-width:0.45px;font-size:7.5px">0</text>
<text x="433.8" y="319.4" text-anchor="middle" style="font-family:'Liberation Sans',Arial,sans-serif;font-weight:bold;stroke:#000;stroke-width:0.45px;font-size:7.5px">0.5</text>
<text x="449.0" y="319.4" text-anchor="middle" style="font-family:'Liberation Sans',Arial,sans-serif;font-weight:bold;stroke:#000;stroke-width:0.45px;font-size:7.5px">1</text>
<text x="464.1" y="319.4" text-anchor="middle" style="font-family:'Liberation Sans',Arial,sans-serif;font-weight:bold;stroke:#000;stroke-width:0.45px;font-size:7.5px">1.5</text>
<text x="479.3" y="319.4" text-anchor="middle" style="font-family:'Liberation Sans',Arial,sans-serif;font-weight:bold;stroke:#000;stroke-width:0.45px;font-size:7.5px">2</text>
<text x="494.4" y="319.4" text-anchor="middle" style="font-family:'Liberation Sans',Arial,sans-serif;font-weight:bold;stroke:#000;stroke-width:0.45px;font-size:7.5px">2.5</text>
<text x="509.5" y="319.4" text-anchor="middle" style="font-family:'Liberation Sans',Arial,sans-serif;font-weight:bold;stroke:#000;stroke-width:0.45px;font-size:7.5px">3</text>
<text x="524.7" y="319.4" text-anchor="middle" style="font-family:'Liberation Sans',Arial,sans-serif;font-weight:bold;stroke:#000;stroke-width:0.45px;font-size:7.5px">3.5</text>
<text x="539.8" y="319.4" text-anchor="middle" style="font-family:'Liberation Sans',Arial,sans-serif;font-weight:bold;stroke:#000;stroke-width:0.45px;font-size:7.5px">4</text>
<text x="555.0" y="319.4" text-anchor="middle" style="font-family:'Liberation Sans',Arial,sans-serif;font-weight:bold;stroke:#000;stroke-width:0.45px;font-size:7.5px">4.5</text>
<text x="570.1" y="319.4" text-anchor="middle" style="font-family:'Liberation Sans',Arial,sans-serif;font-weight:bold;stroke:#000;stroke-width:0.45px;font-size:7.5px">5</text>
<text x="585.3" y="319.4" text-anchor="middle" style="font-family:'Liberation Sans',Arial,sans-serif;font-weight:bold;stroke:#000;stroke-width:0.45px;font-size:7.5px">5.5</text>
<text x="600.4" y="319.4" text-anchor="middle" style="font-family:'Liberation Sans',Arial,sans-serif;font-weight:bold;stroke:#000;stroke-width:0.45px;font-size:7.5px">6</text>
<text x="416.9" y="314.1" text-anchor="end" style="font-family:'Liberation Sans',Arial,sans-serif;font-weight:bold;stroke:#000;stroke-width:0.45px;font-size:7.5px">0</text>
<text x="416.9" y="289.6" text-anchor="end" style="font-family:'Liberation Sans',Arial,sans-serif;font-weight:bold;stroke:#000;stroke-width:0.45px;font-size:7.5px">0.02</text>
<text x="416.9" y="265.1" text-anchor="end" style="font-family:'Liberation Sans',Arial,sans-serif;font-weight:bold;stroke:#000;stroke-width:0.45px;font-size:7.5px">0.04</text>
<text x="416.9" y="240.5" text-anchor="end" style="font-family:'Liberation Sans',Arial,sans-serif;font-weight:bold;stroke:#000;stroke-width:0.45px;font-size:7.5px">0.06</text>
<text x="416.9" y="216.0" text-anchor="end" style="font-family:'Liberation Sans',Arial,sans-serif;font-weight:bold;stroke:#000;stroke-width:0.45px;font-size:7.5px">0.08</text>
<text x="416.9" y="191.5" text-anchor="end" style="font-family:'Liberation Sans',Arial,sans-serif;font-weight:bold;stroke:#000;stroke-width:0.45px;font-size:7.5px">0.1</text>
<text x="509.5" y="328.6" text-anchor="middle" style="font-family:'Liberation Sans',Arial,sans-serif;font-weight:bold;stroke:#000;stroke-width:0.45px;font-size:7.5px">Energy (eV)</text>
<text transform="translate(398.7,249.5) rotate(-90)" text-anchor="middle" style="font-family:'Liberation Sans',Arial,sans-serif;font-weight:bold;stroke:#000;stroke-width:0.45px;font-size:7.4px">Projected density of states (states/cell)</text>
<text x="450.7" y="179.3" style="font-family:'Liberation Serif','Times New Roman',serif;font-weight:bold;font-size:14.2px;stroke:#000;stroke-width:0.3px;word-spacing:0.2px">O layer 2</text>
<text x="425.8" y="213.5" style="font-family:'Liberation Serif','Times New Roman',serif;font-weight:bold;font-size:20px">(f)</text>
<rect x="545.4" y="197.1" width="38.0" height="26.5" fill="#fff" stroke="#444" stroke-width="0.9"/>
<line x1="547.2" y1="202.3" x2="555.2" y2="202.3" stroke="#333" stroke-width="1"/>
<text x="581.8" y="205.2" text-anchor="end" style="font-family:'Liberation Sans',Arial,sans-serif;font-weight:bold;stroke:#000;stroke-width:0.45px;font-size:7.9px">s-DOS</text>
<line x1="547.2" y1="210.2" x2="555.2" y2="210.2" stroke="#ff2020" stroke-width="1"/>
<text x="581.8" y="213.0" text-anchor="end" style="font-family:'Liberation Sans',Arial,sans-serif;font-weight:bold;stroke:#000;stroke-width:0.45px;font-size:7.9px">p-DOS</text>
<line x1="547.2" y1="218.6" x2="555.2" y2="218.6" stroke="#20e020" stroke-width="1"/>
<text x="581.8" y="221.4" text-anchor="end" style="font-family:'Liberation Sans',Arial,sans-serif;font-weight:bold;stroke:#000;stroke-width:0.45px;font-size:7.9px">d-DOS</text>
<clipPath id="cpd"><rect x="190.0" y="359.59999999999997" width="182.29999999999998" height="128.39999999999998"/></clipPath>
<path d="M190.6,487.4v-3M190.6,360.2v3M198.1,487.4v-1.6M198.1,360.2v1.6M205.7,487.4v-3M205.7,360.2v3M213.2,487.4v-1.6M213.2,360.2v1.6M220.8,487.4v-3M220.8,360.2v3M228.3,487.4v-1.6M228.3,360.2v1.6M235.9,487.4v-3M235.9,360.2v3M243.4,487.4v-1.6M243.4,360.2v1.6M251.0,487.4v-3M251.0,360.2v3M258.5,487.4v-1.6M258.5,360.2v1.6M266.1,487.4v-3M266.1,360.2v3M273.6,487.4v-1.6M273.6,360.2v1.6M281.1,487.4v-3M281.1,360.2v3M288.7,487.4v-1.6M288.7,360.2v1.6M296.2,487.4v-3M296.2,360.2v3M303.8,487.4v-1.6M303.8,360.2v1.6M311.3,487.4v-3M311.3,360.2v3M318.9,487.4v-1.6M318.9,360.2v1.6M326.4,487.4v-3M326.4,360.2v3M334.0,487.4v-1.6M334.0,360.2v1.6M341.5,487.4v-3M341.5,360.2v3M349.1,487.4v-1.6M349.1,360.2v1.6M356.6,487.4v-3M356.6,360.2v3M364.2,487.4v-1.6M364.2,360.2v1.6M371.7,487.4v-3M371.7,360.2v3M190.6,487.4h3M371.7,487.4h-3M190.6,474.7h1.6M371.7,474.7h-1.6M190.6,462.0h3M371.7,462.0h-3M190.6,449.2h1.6M371.7,449.2h-1.6M190.6,436.5h3M371.7,436.5h-3M190.6,423.8h1.6M371.7,423.8h-1.6M190.6,411.1h3M371.7,411.1h-3M190.6,398.4h1.6M371.7,398.4h-1.6M190.6,385.6h3M371.7,385.6h-3M190.6,372.9h1.6M371.7,372.9h-1.6M190.6,360.2h3M371.7,360.2h-3" stroke="#444" stroke-width="0.9" fill="none"/>
<rect x="190.6" y="360.2" width="181.1" height="127.19999999999999" fill="none" stroke="#444" stroke-width="1"/>
<path clip-path="url(#cpd)" d="M190.7,476.7 192.0,474.1 193.3,472.8 194.7,475.4 196.0,474.1 197.3,478.1 198.6,476.7 200.0,478.1 201.3,479.4 202.6,480.7 204.0,479.4 205.3,478.1 206.6,479.4 208.0,478.9 209.3,480.7 211.9,482.1 214.6,483.4 217.3,484.2 219.9,485.3 225.3,486.1 230.6,486.9 241.2,487.4 271.0,487.4 273.2,482.1 274.5,479.4 275.8,478.1 277.1,471.4 278.0,475.4 280.7,466.1 283.3,459.5 286.0,454.1 288.6,447.5 291.3,434.2 291.7,427.3 292.5,417.8 293.3,405.2 294.0,395.8 294.8,381.6 295.6,367.5 296.4,358.8 301.1,358.8 301.9,367.5 302.7,358.8 303.5,364.3 304.3,358.8 305.9,364.3 307.4,358.8 309.0,370.6 309.8,376.9 310.6,367.5 311.4,364.3 312.2,372.2 312.9,367.5 313.7,381.6 314.5,389.5 315.3,402.1 316.1,414.7 316.9,421.0 317.7,425.7 318.5,417.8 319.2,405.2 320.0,398.9 320.8,402.1 321.6,398.9 321.9,399.6 322.0,405.2 323.6,410.0 325.1,402.1 326.7,405.2 328.3,398.9 329.1,405.2 329.9,402.1 330.7,410.0 331.4,405.2 333.0,411.5 334.6,417.8 336.2,414.7 337.7,405.2 338.5,408.4 339.3,421.0 340.1,430.4 340.9,428.9 341.7,432.0 342.5,425.7 343.3,433.6 344.0,436.7 344.8,432.0 345.6,427.3 346.4,424.1 347.2,417.8 348.0,413.1 348.8,414.7 349.6,408.4 350.3,405.2 351.1,398.9 351.9,400.5 352.7,405.2 353.5,411.5 354.3,417.8 355.1,424.1 355.9,421.0 356.6,428.9 357.4,432.0 358.2,430.4 359.8,437.5 361.4,432.0 362.9,430.4 364.5,427.3 365.3,432.0 366.1,439.9 367.7,432.0 369.2,428.9 370.8,438.3 371.7,430.4 371.7,428.9" fill="none" stroke="#000" stroke-width="1.15" stroke-linejoin="round"/>
<path clip-path="url(#cpd)" d="M190.7,343.7 209.3,343.7M212.5,361.0 213.5,367.6 214.6,365.0 215.7,369.0 216.7,363.6 217.8,367.6 218.9,365.0 219.9,369.0 220.5,361.0 221.0,343.7M223.4,403.6 223.9,412.9 224.7,426.2 225.8,436.8 226.9,447.5 227.9,455.5 229.2,463.4 230.6,468.8 231.9,471.4 232.7,470.1 233.8,474.1 234.8,475.4 235.9,478.1 237.2,482.1 238.6,484.7 239.9,487.4 273.2,487.4 275.8,482.1 277.1,474.1 278.0,474.1 279.3,466.1 280.7,458.1 282.0,459.5 283.3,456.8 284.7,455.5 286.0,450.1 287.3,447.5 288.6,442.2 290.0,436.8 291.3,428.8 292.5,427.3 294.0,417.8 294.8,408.4 295.6,403.7 296.4,402.1 297.2,398.9 298.0,395.8 298.8,391.1 299.6,394.2 300.3,389.5 301.1,381.6 301.9,386.4 302.7,376.9 303.5,380.0 304.3,373.7 305.1,376.9 305.9,367.5 306.6,376.9 307.4,370.6 308.2,381.6 309.0,373.7 309.8,367.5 310.6,364.3 311.4,370.6 312.2,364.3 312.9,367.5 313.7,373.7 314.5,367.5 315.3,364.3 316.1,358.8 316.9,365.9 317.7,358.8 319.2,354.8 321.6,354.8 322.0,354.8 371.7,354.8" fill="none" stroke="#ff0000" stroke-width="1.15" stroke-linejoin="round"/>
<path clip-path="url(#cpd)" d="M190.7,463.4 192.0,459.5 193.3,466.1 194.7,468.8 196.0,466.1 197.3,462.1 198.6,458.1 199.2,442.2 200.0,452.8 200.8,468.8 202.6,471.4 204.0,470.1 205.3,468.8 206.6,466.1 208.0,462.1 209.3,466.1 210.6,468.8 211.9,474.1 214.6,475.4 217.3,474.1 219.9,474.1 222.6,475.4 225.3,478.1 227.9,479.4 230.6,478.1 233.2,480.7 235.9,483.4 238.6,486.1 241.2,487.4 270.5,487.4 271.8,482.1 273.2,482.1 274.5,479.4 275.8,476.7 277.1,468.8 278.0,479.4 280.7,471.4 283.3,466.1 286.0,463.4 288.6,458.1 291.3,444.8 292.6,434.2 294.0,423.5 294.8,427.3 295.6,421.0 296.4,414.7 297.2,410.0 298.0,405.2 298.8,403.7 299.6,406.8 300.3,402.1 301.1,405.2 301.9,400.5 302.7,403.7 303.5,398.9 304.3,405.2 305.1,402.1 305.9,389.5 306.6,383.2 307.4,397.4 308.2,410.0 309.0,405.2 309.8,414.7 310.6,408.4 311.4,411.5 312.2,414.7 312.9,408.4 313.7,411.5 314.5,414.7 315.3,419.4 316.1,424.1 316.9,427.3 317.7,417.8 318.5,405.2 319.2,398.9 320.0,403.7 320.8,413.1 321.6,421.0 321.9,418.2 322.0,397.4 322.8,402.1 323.6,395.8 324.4,403.7 325.1,397.4 325.9,405.2 326.7,398.9 327.5,410.0 328.3,402.1 329.1,424.1 329.9,411.5 330.7,405.2 331.4,410.0 332.2,400.5 333.0,395.8 333.8,403.7 334.6,397.4 335.4,408.4 336.2,389.5 337.0,381.6 337.7,362.7 338.2,358.8 338.7,370.6 339.3,380.0 340.1,389.5 340.9,398.9 341.7,395.8 342.5,405.2 343.3,398.9 344.0,402.1 344.8,405.2 345.6,397.4 346.4,402.1 347.2,394.2 348.0,400.5 348.8,397.4 349.6,398.9 350.3,373.7 351.1,361.2 351.9,358.8 352.7,367.5 353.5,381.6 354.3,398.9 355.1,405.2 355.9,394.2 356.6,383.2 357.4,392.6 358.2,402.1 359.0,392.6 359.8,397.4 360.6,389.5 361.4,398.9 362.2,411.5 362.9,405.2 363.7,416.3 364.5,403.7 365.3,410.0 366.1,417.8 366.9,405.2 367.7,392.6 368.5,405.2 369.2,398.9 370.0,389.5 370.8,380.0 371.6,373.7 371.7,395.8 371.7,405.2 371.7,398.9" fill="none" stroke="#00e000" stroke-width="1.15" stroke-linejoin="round"/>
<text x="190.6" y="495.7" text-anchor="middle" style="font-family:'Liberation Sans',Arial,sans-serif;font-weight:bold;stroke:#000;stroke-width:0.45px;font-size:7.5px">0</text>
<text x="205.7" y="495.7" text-anchor="middle" style="font-family:'Liberation Sans',Arial,sans-serif;font-weight:bold;stroke:#000;stroke-width:0.45px;font-size:7.5px">0.5</text>
<text x="220.8" y="495.7" text-anchor="middle" style="font-family:'Liberation Sans',Arial,sans-serif;font-weight:bold;stroke:#000;stroke-width:0.45px;font-size:7.5px">1</text>
<text x="235.9" y="495.7" text-anchor="middle" style="font-family:'Liberation Sans',Arial,sans-serif;font-weight:bold;stroke:#000;stroke-width:0.45px;font-size:7.5px">1.5</text>
<text x="251.0" y="495.7" text-anchor="middle" style="font-family:'Liberation Sans',Arial,sans-serif;font-weight:bold;stroke:#000;stroke-width:0.45px;font-size:7.5px">2</text>
<text x="266.1" y="495.7" text-anchor="middle" style="font-family:'Liberation Sans',Arial,sans-serif;font-weight:bold;stroke:#000;stroke-width:0.45px;font-size:7.5px">2.5</text>
<text x="281.1" y="495.7" text-anchor="middle" style="font-family:'Liberation Sans',Arial,sans-serif;font-weight:bold;stroke:#000;stroke-width:0.45px;font-size:7.5px">3</text>
<text x="296.2" y="495.7" text-anchor="middle" style="font-family:'Liberation Sans',Arial,sans-serif;font-weight:bold;stroke:#000;stroke-width:0.45px;font-size:7.5px">3.5</text>
<text x="311.3" y="495.7" text-anchor="middle" style="font-family:'Liberation Sans',Arial,sans-serif;font-weight:bold;stroke:#000;stroke-width:0.45px;font-size:7.5px">4</text>
<text x="326.4" y="495.7" text-anchor="middle" style="font-family:'Liberation Sans',Arial,sans-serif;font-weight:bold;stroke:#000;stroke-width:0.45px;font-size:7.5px">4.5</text>
<text x="341.5" y="495.7" text-anchor="middle" style="font-family:'Liberation Sans',Arial,sans-serif;font-weight:bold;stroke:#000;stroke-width:0.45px;font-size:7.5px">5</text>
<text x="356.6" y="495.7" text-anchor="middle" style="font-family:'Liberation Sans',Arial,sans-serif;font-weight:bold;stroke:#000;stroke-width:0.45px;font-size:7.5px">5.5</text>
<text x="371.7" y="495.7" text-anchor="middle" style="font-family:'Liberation Sans',Arial,sans-serif;font-weight:bold;stroke:#000;stroke-width:0.45px;font-size:7.5px">6</text>
<text x="188.8" y="490.4" text-anchor="end" style="font-family:'Liberation Sans',Arial,sans-serif;font-weight:bold;stroke:#000;stroke-width:0.45px;font-size:7.5px">0</text>
<text x="188.8" y="465.0" text-anchor="end" style="font-family:'Liberation Sans',Arial,sans-serif;font-weight:bold;stroke:#000;stroke-width:0.45px;font-size:7.5px">0.02</text>
<text x="188.8" y="439.5" text-anchor="end" style="font-family:'Liberation Sans',Arial,sans-serif;font-weight:bold;stroke:#000;stroke-width:0.45px;font-size:7.5px">0.04</text>
<text x="188.8" y="414.1" text-anchor="end" style="font-family:'Liberation Sans',Arial,sans-serif;font-weight:bold;stroke:#000;stroke-width:0.45px;font-size:7.5px">0.06</text>
<text x="188.8" y="388.6" text-anchor="end" style="font-family:'Liberation Sans',Arial,sans-serif;font-weight:bold;stroke:#000;stroke-width:0.45px;font-size:7.5px">0.08</text>
<text x="188.8" y="363.2" text-anchor="end" style="font-family:'Liberation Sans',Arial,sans-serif;font-weight:bold;stroke:#000;stroke-width:0.45px;font-size:7.5px">0.1</text>
<text x="281.1" y="504.9" text-anchor="middle" style="font-family:'Liberation Sans',Arial,sans-serif;font-weight:bold;stroke:#000;stroke-width:0.45px;font-size:7.5px">Energy (eV)</text>
<text transform="translate(170.6,421.0) rotate(-90)" text-anchor="middle" style="font-family:'Liberation Sans',Arial,sans-serif;font-weight:bold;stroke:#000;stroke-width:0.45px;font-size:7.4px">Projected density of states (states/cell)</text>
<text x="226.1" y="349.8" style="font-family:'Liberation Serif','Times New Roman',serif;font-weight:bold;font-size:14.2px;stroke:#000;stroke-width:0.3px;word-spacing:0.2px">Si layer 5</text>
<text x="199.9" y="391.2" style="font-family:'Liberation Serif','Times New Roman',serif;font-weight:bold;font-size:20px">(d)</text>
<rect x="317.9" y="369.9" width="37.5" height="26.100000000000023" fill="#fff" stroke="#444" stroke-width="0.9"/>
<line x1="319.7" y1="374.8" x2="327.7" y2="374.8" stroke="#333" stroke-width="1"/>
<text x="353.8" y="377.7" text-anchor="end" style="font-family:'Liberation Sans',Arial,sans-serif;font-weight:bold;stroke:#000;stroke-width:0.45px;font-size:7.9px">s-DOS</text>
<line x1="319.7" y1="382.9" x2="327.7" y2="382.9" stroke="#ff2020" stroke-width="1"/>
<text x="353.8" y="385.8" text-anchor="end" style="font-family:'Liberation Sans',Arial,sans-serif;font-weight:bold;stroke:#000;stroke-width:0.45px;font-size:7.9px">p-DOS</text>
<line x1="319.7" y1="391.4" x2="327.7" y2="391.4" stroke="#20e020" stroke-width="1"/>
<text x="353.8" y="394.2" text-anchor="end" style="font-family:'Liberation Sans',Arial,sans-serif;font-weight:bold;stroke:#000;stroke-width:0.45px;font-size:7.9px">d-DOS</text>
<clipPath id="cpg"><rect x="416.4" y="361.79999999999995" width="189.59999999999997" height="128.10000000000002"/></clipPath>
<path d="M417.0,489.3v-3M417.0,362.4v3M424.9,489.3v-1.6M424.9,362.4v1.6M432.7,489.3v-3M432.7,362.4v3M440.6,489.3v-1.6M440.6,362.4v1.6M448.4,489.3v-3M448.4,362.4v3M456.2,489.3v-1.6M456.2,362.4v1.6M464.1,489.3v-3M464.1,362.4v3M471.9,489.3v-1.6M471.9,362.4v1.6M479.8,489.3v-3M479.8,362.4v3M487.6,489.3v-1.6M487.6,362.4v1.6M495.5,489.3v-3M495.5,362.4v3M503.3,489.3v-1.6M503.3,362.4v1.6M511.2,489.3v-3M511.2,362.4v3M519.0,489.3v-1.6M519.0,362.4v1.6M526.9,489.3v-3M526.9,362.4v3M534.8,489.3v-1.6M534.8,362.4v1.6M542.6,489.3v-3M542.6,362.4v3M550.5,489.3v-1.6M550.5,362.4v1.6M558.3,489.3v-3M558.3,362.4v3M566.1,489.3v-1.6M566.1,362.4v1.6M574.0,489.3v-3M574.0,362.4v3M581.8,489.3v-1.6M581.8,362.4v1.6M589.7,489.3v-3M589.7,362.4v3M597.5,489.3v-1.6M597.5,362.4v1.6M605.4,489.3v-3M605.4,362.4v3M417.0,489.3h3M605.4,489.3h-3M417.0,476.6h1.6M605.4,476.6h-1.6M417.0,463.9h3M605.4,463.9h-3M417.0,451.2h1.6M605.4,451.2h-1.6M417.0,438.5h3M605.4,438.5h-3M417.0,425.9h1.6M605.4,425.9h-1.6M417.0,413.2h3M605.4,413.2h-3M417.0,400.5h1.6M605.4,400.5h-1.6M417.0,387.8h3M605.4,387.8h-3M417.0,375.1h1.6M605.4,375.1h-1.6M417.0,362.4h3M605.4,362.4h-3" stroke="#444" stroke-width="0.9" fill="none"/>
<rect x="417.0" y="362.4" width="188.39999999999998" height="126.90000000000003" fill="none" stroke="#444" stroke-width="1"/>
<path clip-path="url(#cpg)" d="M417.0,487.4 423.3,487.0 429.6,487.8 435.8,488.3 445.3,488.9 454.7,489.3 495.5,489.3 506.0,489.2 515.9,489.1 525.7,488.3 530.7,487.4 535.6,487.4 540.5,487.1 545.5,487.4 550.4,486.6 555.3,485.8 560.3,485.0 563.6,483.8 566.9,483.3 568.5,481.7 569.3,477.9 571.0,479.2 572.6,477.6 575.1,475.9 576.7,474.3 578.4,473.0 580.0,472.6 581.7,474.3 583.3,476.7 584.1,473.5 584.9,475.1 586.6,476.7 588.2,475.9 589.9,475.6 591.5,474.3 593.2,471.0 594.8,465.7 596.1,466.1 597.3,472.6 598.9,474.3 600.6,470.2 602.2,464.4 603.5,459.5 604.4,467.7 605.4,469.3" fill="none" stroke="#000" stroke-width="1.15" stroke-linejoin="round"/>
<path clip-path="url(#cpg)" d="M417.0,485.5 420.1,484.9 423.3,486.1 426.4,484.9 429.6,486.1 432.7,486.8 439.0,487.8 445.3,488.5 451.5,489.0 464.1,489.3 495.5,489.3 506.0,489.2 510.9,489.1 515.9,488.4 520.8,487.8 524.1,487.1 527.4,485.8 530.7,485.1 534.0,484.6 535.6,485.0 538.9,485.8 542.2,486.3 545.5,486.6 548.8,487.1 552.1,486.6 555.3,485.8 558.6,485.3 561.9,485.0 565.2,484.5 567.7,484.1 570.1,482.5 573.4,480.9 576.7,479.5 580.0,478.4 582.5,477.9 584.9,476.7 586.6,476.7 588.2,477.2 589.9,475.9 591.5,474.3 593.2,473.0 594.8,469.3 596.1,471.0 597.3,473.5 598.9,472.6 600.6,469.3 602.2,464.4 603.5,457.8 604.4,469.3 605.4,472.6" fill="none" stroke="#ff0000" stroke-width="1.15" stroke-linejoin="round"/>
<path clip-path="url(#cpg)" d="M417.0,489.3 605.4,489.3" fill="none" stroke="#00e000" stroke-width="1.15" stroke-linejoin="round"/>
<text x="417.0" y="497.6" text-anchor="middle" style="font-family:'Liberation Sans',Arial,sans-serif;font-weight:bold;stroke:#000;stroke-width:0.45px;font-size:7.5px">0</text>
<text x="432.7" y="497.6" text-anchor="middle" style="font-family:'Liberation Sans',Arial,sans-serif;font-weight:bold;stroke:#000;stroke-width:0.45px;font-size:7.5px">0.5</text>
<text x="448.4" y="497.6" text-anchor="middle" style="font-family:'Liberation Sans',Arial,sans-serif;font-weight:bold;stroke:#000;stroke-width:0.45px;font-size:7.5px">1</text>
<text x="464.1" y="497.6" text-anchor="middle" style="font-family:'Liberation Sans',Arial,sans-serif;font-weight:bold;stroke:#000;stroke-width:0.45px;font-size:7.5px">1.5</text>
<text x="479.8" y="497.6" text-anchor="middle" style="font-family:'Liberation Sans',Arial,sans-serif;font-weight:bold;stroke:#000;stroke-width:0.45px;font-size:7.5px">2</text>
<text x="495.5" y="497.6" text-anchor="middle" style="font-family:'Liberation Sans',Arial,sans-serif;font-weight:bold;stroke:#000;stroke-width:0.45px;font-size:7.5px">2.5</text>
<text x="511.2" y="497.6" text-anchor="middle" style="font-family:'Liberation Sans',Arial,sans-serif;font-weight:bold;stroke:#000;stroke-width:0.45px;font-size:7.5px">3</text>
<text x="526.9" y="497.6" text-anchor="middle" style="font-family:'Liberation Sans',Arial,sans-serif;font-weight:bold;stroke:#000;stroke-width:0.45px;font-size:7.5px">3.5</text>
<text x="542.6" y="497.6" text-anchor="middle" style="font-family:'Liberation Sans',Arial,sans-serif;font-weight:bold;stroke:#000;stroke-width:0.45px;font-size:7.5px">4</text>
<text x="558.3" y="497.6" text-anchor="middle" style="font-family:'Liberation Sans',Arial,sans-serif;font-weight:bold;stroke:#000;stroke-width:0.45px;font-size:7.5px">4.5</text>
<text x="574.0" y="497.6" text-anchor="middle" style="font-family:'Liberation Sans',Arial,sans-serif;font-weight:bold;stroke:#000;stroke-width:0.45px;font-size:7.5px">5</text>
<text x="589.7" y="497.6" text-anchor="middle" style="font-family:'Liberation Sans',Arial,sans-serif;font-weight:bold;stroke:#000;stroke-width:0.45px;font-size:7.5px">5.5</text>
<text x="605.4" y="497.6" text-anchor="middle" style="font-family:'Liberation Sans',Arial,sans-serif;font-weight:bold;stroke:#000;stroke-width:0.45px;font-size:7.5px">6</text>
<text x="415.2" y="492.3" text-anchor="end" style="font-family:'Liberation Sans',Arial,sans-serif;font-weight:bold;stroke:#000;stroke-width:0.45px;font-size:7.5px">0</text>
<text x="415.2" y="466.9" text-anchor="end" style="font-family:'Liberation Sans',Arial,sans-serif;font-weight:bold;stroke:#000;stroke-width:0.45px;font-size:7.5px">0.02</text>
<text x="415.2" y="441.5" text-anchor="end" style="font-family:'Liberation Sans',Arial,sans-serif;font-weight:bold;stroke:#000;stroke-width:0.45px;font-size:7.5px">0.04</text>
<text x="415.2" y="416.2" text-anchor="end" style="font-family:'Liberation Sans',Arial,sans-serif;font-weight:bold;stroke:#000;stroke-width:0.45px;font-size:7.5px">0.06</text>
<text x="415.2" y="390.8" text-anchor="end" style="font-family:'Liberation Sans',Arial,sans-serif;font-weight:bold;stroke:#000;stroke-width:0.45px;font-size:7.5px">0.08</text>
<text x="415.2" y="365.4" text-anchor="end" style="font-family:'Liberation Sans',Arial,sans-serif;font-weight:bold;stroke:#000;stroke-width:0.45px;font-size:7.5px">0.1</text>
<text x="511.2" y="506.8" text-anchor="middle" style="font-family:'Liberation Sans',Arial,sans-serif;font-weight:bold;stroke:#000;stroke-width:0.45px;font-size:7.5px">Energy (eV)</text>
<text transform="translate(397.0,425.6) rotate(-90)" text-anchor="middle" style="font-family:'Liberation Sans',Arial,sans-serif;font-weight:bold;stroke:#000;stroke-width:0.45px;font-size:7.4px">Projected density of states (states/cell)</text>
<text x="454.6" y="353.5" style="font-family:'Liberation Serif','Times New Roman',serif;font-weight:bold;font-size:14.2px;stroke:#000;stroke-width:0.3px;word-spacing:0.2px">O layer 3</text>
<text x="438.7" y="391.2" style="font-family:'Liberation Serif','Times New Roman',serif;font-weight:bold;font-size:20px">(g)</text>
<rect x="548.4" y="371.2" width="39.80000000000007" height="26.30000000000001" fill="#fff" stroke="#444" stroke-width="0.9"/>
<line x1="550.2" y1="376.5" x2="558.2" y2="376.5" stroke="#333" stroke-width="1"/>
<text x="586.6" y="379.4" text-anchor="end" style="font-family:'Liberation Sans',Arial,sans-serif;font-weight:bold;stroke:#000;stroke-width:0.45px;font-size:7.9px">s-DOS</text>
<line x1="550.2" y1="384.6" x2="558.2" y2="384.6" stroke="#ff2020" stroke-width="1"/>
<text x="586.6" y="387.5" text-anchor="end" style="font-family:'Liberation Sans',Arial,sans-serif;font-weight:bold;stroke:#000;stroke-width:0.45px;font-size:7.9px">p-DOS</text>
<line x1="550.2" y1="393.0" x2="558.2" y2="393.0" stroke="#20e020" stroke-width="1"/>
<text x="586.6" y="395.9" text-anchor="end" style="font-family:'Liberation Sans',Arial,sans-serif;font-weight:bold;stroke:#000;stroke-width:0.45px;font-size:7.9px">d-DOS</text>
</svg>
</body></html>
